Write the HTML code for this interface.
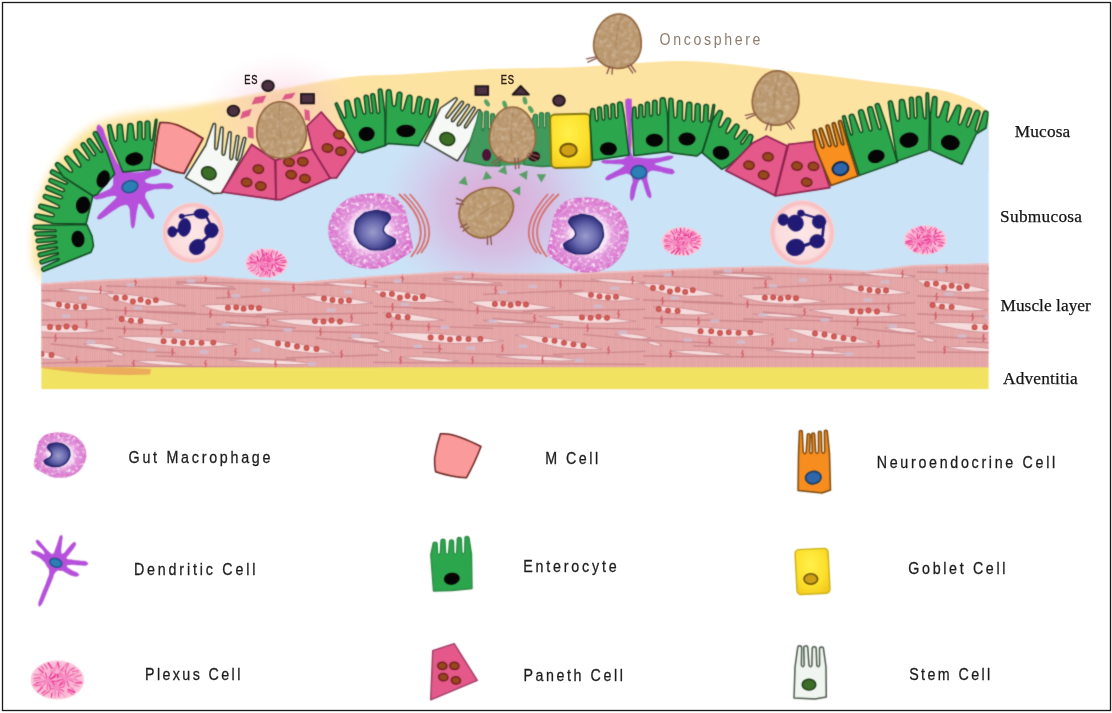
<!DOCTYPE html>
<html lang="en"><head><meta charset="utf-8"><title>Intestinal wall and oncosphere</title>
<style>
html,body{margin:0;padding:0;background:#fff;}
body{width:1112px;height:713px;overflow:hidden;}
svg{display:block;}
text{font-family:"Liberation Sans",sans-serif;}
.serif{font-family:"Liberation Serif",serif;}
</style></head><body>
<svg width="1112" height="713" viewBox="0 0 1112 713">
<defs>
<filter id="blur6" x="-20%" y="-20%" width="140%" height="140%"><feGaussianBlur stdDeviation="6"/></filter>
<filter id="blur3" x="-20%" y="-20%" width="140%" height="140%"><feGaussianBlur stdDeviation="3"/></filter>
<filter id="blur1" x="-20%" y="-20%" width="140%" height="140%"><feGaussianBlur stdDeviation="0.6"/></filter>
<filter id="soften" filterUnits="userSpaceOnUse" x="0" y="0" width="1112" height="713" color-interpolation-filters="sRGB"><feConvolveMatrix order="3" kernelMatrix="1 4 1 4 16 4 1 4 1" divisor="36" edgeMode="duplicate"/></filter>
<clipPath id="cl_ill"><rect x="0" y="0" width="988.6" height="400"/></clipPath>
<radialGradient id="gPink" cx="0.5" cy="0.5" r="0.5">
 <stop offset="0" stop-color="#f4a8c8" stop-opacity="0.42"/>
 <stop offset="0.45" stop-color="#f6b6d0" stop-opacity="0.26"/>
 <stop offset="1" stop-color="#fbd0e0" stop-opacity="0"/>
</radialGradient>
<radialGradient id="gPurp" cx="0.5" cy="0.5" r="0.5">
 <stop offset="0" stop-color="#e29ccf" stop-opacity="0.9"/>
 <stop offset="0.5" stop-color="#dca8d8" stop-opacity="0.58"/>
 <stop offset="1" stop-color="#d8b8e8" stop-opacity="0"/>
</radialGradient>
<radialGradient id="gGob" cx="0.45" cy="0.35" r="0.75">
 <stop offset="0" stop-color="#fff04a"/>
 <stop offset="0.6" stop-color="#fde02c"/>
 <stop offset="1" stop-color="#f3c81e"/>
</radialGradient>
<radialGradient id="gDot" cx="0.5" cy="0.5" r="0.5">
 <stop offset="0" stop-color="#d87468"/>
 <stop offset="0.45" stop-color="#cf5a55"/>
 <stop offset="1" stop-color="#c44848"/>
</radialGradient>

<filter id="yb0" x="-10%" y="-20%" width="120%" height="140%"><feGaussianBlur stdDeviation="4"/></filter>
<clipPath id="yc0"><rect x="0" y="0" width="110" height="400"/></clipPath>
<filter id="yb1" x="-10%" y="-20%" width="120%" height="140%"><feGaussianBlur stdDeviation="4"/></filter>
<clipPath id="yc1"><rect x="110" y="0" width="40" height="400"/></clipPath>
<filter id="yb2" x="-10%" y="-20%" width="120%" height="140%"><feGaussianBlur stdDeviation="3.2"/></filter>
<clipPath id="yc2"><rect x="150" y="0" width="40" height="400"/></clipPath>
<filter id="yb3" x="-10%" y="-20%" width="120%" height="140%"><feGaussianBlur stdDeviation="2.5"/></filter>
<clipPath id="yc3"><rect x="190" y="0" width="40" height="400"/></clipPath>
<filter id="yb4" x="-10%" y="-20%" width="120%" height="140%"><feGaussianBlur stdDeviation="1.8"/></filter>
<clipPath id="yc4"><rect x="230" y="0" width="50" height="400"/></clipPath>
<filter id="yb5" x="-10%" y="-20%" width="120%" height="140%"><feGaussianBlur stdDeviation="1.2"/></filter>
<clipPath id="yc5"><rect x="280" y="0" width="60" height="400"/></clipPath>
<filter id="yb6" x="-10%" y="-20%" width="120%" height="140%"><feGaussianBlur stdDeviation="0.7"/></filter>
<clipPath id="yc6"><rect x="340" y="0" width="649" height="400"/></clipPath>

<pattern id="stria" width="2.3" height="8" patternUnits="userSpaceOnUse">
 <rect x="0" y="0" width="1" height="8" fill="#cc7c82" opacity="0.3"/>
</pattern>

<clipPath id="cl_mus"><polygon points="41.4,283.5 96,280 159,277.2 202,275.5 250,279 298,282.3 376,276 457,271 500,273.5 560,273.5 656,269.8 700,268 780,266 866,271 914,265 988.6,263.5 988.6,368 41.4,368"/></clipPath>
<g id="mtile"><g stroke="#c98288" stroke-width="1.3" fill="none" opacity="0.85"><path d="M-10 -12 L120 -9"/><path d="M60 -16 L262 -12"/><path d="M-10 12 L80 15"/><path d="M30 14 L150 19"/><path d="M140 17 L262 15"/><path d="M-10 30 L110 34"/><path d="M90 31 L262 35"/><path d="M-10 52 L60 55"/><path d="M40 58 L180 62"/><path d="M170 60 L262 57"/><path d="M-10 68 L262 70"/><path d="M0 -3 L70 8"/><path d="M100 0 L200 -4"/><path d="M110 24 L180 30"/><path d="M200 40 L262 46"/></g><g fill="#f6dcdc" stroke="#cc8a90" stroke-width="0.8"><path d="M-11 -4 Q15.2 -6.1 64 6.5 Q15.2 13.1 -11 -4Z"/><path d="M0 18.5 Q18.3 16.8 61 26 Q18.3 30 0 18.5Z"/><path d="M2 38.5 Q55.6 36.7 121 46.5 Q55.6 54.7 2 38.5Z"/><path d="M86 7.5 Q116.1 3.6 172 13.5 Q116.1 20.8 86 7.5Z"/><path d="M132 40.5 Q175.5 40.7 219 55 Q175.5 58.3 132 40.5Z"/><path d="M156 22 Q199.7 18.3 253 27 Q199.7 33.1 156 22Z"/><path d="M186 -1.5 Q214.4 -5.3 257 5 Q214.4 10.7 186 -1.5Z"/><path d="M-6 54 Q1.5 52.1 9 57.5 Q1.5 59.4 -6 54Z"/><path d="M113 62 Q156.5 59.4 200 66 Q156.5 68.6 113 62Z"/><path d="M18 63 Q47 60.6 76 67 Q47 69.4 18 63Z"/><path d="M208 -15 Q235 -17 262 -11 Q235 -9 208 -15Z"/><path d="M60 -14 Q89 -15.9 118 -11 Q89 -9.1 60 -14Z"/><path d="M232 40 Q250 37.4 268 44 Q250 46.6 232 40Z"/><path d="M100 26 Q125 24.1 150 29 Q125 30.9 100 26Z"/></g><g fill="#cfc0d4" opacity="0.8"><rect x="10.5" y="-14.8" width="9" height="3.6" rx="1.6"/><rect x="70.5" y="-18.8" width="9" height="3.6" rx="1.6"/><rect x="17.5" y="8.2" width="9" height="3.6" rx="1.6"/><rect x="57.5" y="31.2" width="9" height="3.6" rx="1.6"/><rect x="105.5" y="25.2" width="9" height="3.6" rx="1.6"/><rect x="30.5" y="50.2" width="9" height="3.6" rx="1.6"/><rect x="83.5" y="52.2" width="9" height="3.6" rx="1.6"/><rect x="145.5" y="-9.8" width="9" height="3.6" rx="1.6"/><rect x="167.5" y="30.2" width="9" height="3.6" rx="1.6"/><rect x="210.5" y="10.2" width="9" height="3.6" rx="1.6"/><rect x="235.5" y="36.2" width="9" height="3.6" rx="1.6"/><rect x="135.5" y="50.2" width="9" height="3.6" rx="1.6"/><rect x="191.5" y="64.2" width="9" height="3.6" rx="1.6"/><rect x="227.5" y="-7.8" width="9" height="3.6" rx="1.6"/><rect x="115.5" y="-3.8" width="9" height="3.6" rx="1.6"/></g><g stroke="#d25a64" stroke-width="1.25" fill="none" stroke-linejoin="round"><path d="M20 -20 l-1.2 3.6 l1.6 0.2 l-1.4 4" /><path d="M90 -24 l-1.2 3.6 l1.6 0.2 l-1.4 4" /><path d="M10 9 l-1.2 3.6 l1.6 0.2 l-1.4 4" /><path d="M9 28 l-1.2 3.6 l1.6 0.2 l-1.4 4" /><path d="M46 29 l-1.2 3.6 l1.6 0.2 l-1.4 4" /><path d="M95 12 l-1.2 3.6 l1.6 0.2 l-1.4 4" /><path d="M113 -8 l-1.2 3.6 l1.6 0.2 l-1.4 4" /><path d="M57 50 l-1.2 3.6 l1.6 0.2 l-1.4 4" /><path d="M90 62 l-1.2 3.6 l1.6 0.2 l-1.4 4" /><path d="M120 50 l-1.2 3.6 l1.6 0.2 l-1.4 4" /><path d="M152 20 l-1.2 3.6 l1.6 0.2 l-1.4 4" /><path d="M178 -14 l-1.2 3.6 l1.6 0.2 l-1.4 4" /><path d="M205 30 l-1.2 3.6 l1.6 0.2 l-1.4 4" /><path d="M236 16 l-1.2 3.6 l1.6 0.2 l-1.4 4" /><path d="M226 52 l-1.2 3.6 l1.6 0.2 l-1.4 4" /><path d="M18 62 l-1.2 3.6 l1.6 0.2 l-1.4 4" /><path d="M160 62 l-1.2 3.6 l1.6 0.2 l-1.4 4" /><path d="M250 -18 l-1.2 3.6 l1.6 0.2 l-1.4 4" /></g><circle cx="0" cy="0" r="2.9" fill="url(#gDot)"/><circle cx="8.9" cy="-0.4" r="2.9" fill="url(#gDot)"/><circle cx="16.9" cy="3.3" r="2.9" fill="url(#gDot)"/><circle cx="24.6" cy="1.7" r="2.9" fill="url(#gDot)"/><circle cx="32.2" cy="3.9" r="2.9" fill="url(#gDot)"/><circle cx="39.8" cy="2.1" r="2.9" fill="url(#gDot)"/><circle cx="5.7" cy="21" r="2.9" fill="url(#gDot)"/><circle cx="15" cy="22.6" r="2.9" fill="url(#gDot)"/><circle cx="24.6" cy="22.9" r="2.9" fill="url(#gDot)"/><circle cx="47.6" cy="43.2" r="2.9" fill="url(#gDot)"/><circle cx="58.2" cy="43.2" r="2.9" fill="url(#gDot)"/><circle cx="67" cy="45" r="2.9" fill="url(#gDot)"/><circle cx="75.8" cy="44.3" r="2.9" fill="url(#gDot)"/><circle cx="85.5" cy="44.8" r="2.9" fill="url(#gDot)"/><circle cx="97.3" cy="44.6" r="2.9" fill="url(#gDot)"/><circle cx="111.9" cy="9.7" r="2.9" fill="url(#gDot)"/><circle cx="120.2" cy="9.3" r="2.9" fill="url(#gDot)"/><circle cx="127.6" cy="10.7" r="2.9" fill="url(#gDot)"/><circle cx="135.2" cy="9.3" r="2.9" fill="url(#gDot)"/><circle cx="143" cy="10.2" r="2.9" fill="url(#gDot)"/><circle cx="162" cy="45.5" r="2.9" fill="url(#gDot)"/><circle cx="171.5" cy="46.5" r="2.9" fill="url(#gDot)"/><circle cx="181" cy="48.5" r="2.9" fill="url(#gDot)"/><circle cx="190.5" cy="50" r="2.9" fill="url(#gDot)"/><circle cx="200.5" cy="51" r="2.9" fill="url(#gDot)"/><circle cx="199" cy="23" r="2.9" fill="url(#gDot)"/><circle cx="207.5" cy="23.5" r="2.9" fill="url(#gDot)"/><circle cx="215.5" cy="22.5" r="2.9" fill="url(#gDot)"/><circle cx="224" cy="23.5" r="2.9" fill="url(#gDot)"/><circle cx="208" cy="0.5" r="2.9" fill="url(#gDot)"/><circle cx="216.5" cy="2" r="2.9" fill="url(#gDot)"/><circle cx="225" cy="3" r="2.9" fill="url(#gDot)"/><circle cx="233" cy="2.5" r="2.9" fill="url(#gDot)"/></g>

<filter id="texOnc" x="-5%" y="-5%" width="110%" height="110%">
 <feTurbulence type="fractalNoise" baseFrequency="0.22" numOctaves="3" seed="4" result="n"/>
 <feColorMatrix in="n" type="matrix" values="0 0 0 0 0.55  0 0 0 0 0.38  0 0 0 0 0.22  1.3 0 0 0 -0.5" result="n2"/>
 <feComposite in="n2" in2="SourceGraphic" operator="in" result="n3"/>
 <feColorMatrix in="n" type="matrix" values="0 0 0 0 0.80  0 0 0 0 0.68  0 0 0 0 0.52  0 1.1 0 0 -0.5" result="m2"/>
 <feComposite in="m2" in2="SourceGraphic" operator="in" result="m3"/>
 <feMerge><feMergeNode in="SourceGraphic"/><feMergeNode in="m3"/><feMergeNode in="n3"/></feMerge>
</filter>
<filter id="texMac" x="-5%" y="-5%" width="110%" height="110%">
 <feTurbulence type="fractalNoise" baseFrequency="0.28" numOctaves="2" seed="7" result="n"/>
 <feColorMatrix in="n" type="matrix" values="0 0 0 0 0.98  0 0 0 0 0.82  0 0 0 0 0.97  3.5 0 0 0 -1.7" result="n2"/>
 <feComposite in="n2" in2="SourceGraphic" operator="in" result="n3"/>
 <feTurbulence type="fractalNoise" baseFrequency="0.33" numOctaves="2" seed="21" result="m"/>
 <feColorMatrix in="m" type="matrix" values="0 0 0 0 0.70  0 0 0 0 0.28  0 0 0 0 0.68  0 4 0 0 -1.8" result="m2"/>
 <feComposite in="m2" in2="SourceGraphic" operator="in" result="m3"/>
 <feMerge><feMergeNode in="SourceGraphic"/><feMergeNode in="n3"/><feMergeNode in="m3"/></feMerge>
</filter>
<radialGradient id="gMac" cx="0.5" cy="0.5" r="0.5">
 <stop offset="0" stop-color="#f3d2f0"/>
 <stop offset="0.5" stop-color="#ecb4e6"/>
 <stop offset="0.72" stop-color="#e28cd8"/>
 <stop offset="0.93" stop-color="#dc74ce"/>
 <stop offset="1" stop-color="#d868c6"/>
</radialGradient>
<radialGradient id="gMacHalo" cx="0.5" cy="0.5" r="0.5">
 <stop offset="0" stop-color="#fff" stop-opacity="1"/>
 <stop offset="0.72" stop-color="#fdf0fc" stop-opacity="0.85"/>
 <stop offset="1" stop-color="#f6d6f4" stop-opacity="0"/>
</radialGradient>
<radialGradient id="gNuc" cx="0.45" cy="0.55" r="0.6">
 <stop offset="0" stop-color="#9a9bcb"/>
 <stop offset="0.45" stop-color="#6b6cb0"/>
 <stop offset="0.8" stop-color="#3a3b86"/>
 <stop offset="1" stop-color="#25256a"/>
</radialGradient>
<radialGradient id="gNeu" cx="0.5" cy="0.5" r="0.5">
 <stop offset="0" stop-color="#fce6e6"/>
 <stop offset="0.8" stop-color="#fbdcdd"/>
 <stop offset="0.88" stop-color="#f9c4c6"/>
 <stop offset="0.95" stop-color="#f8c0c2"/>
 <stop offset="1" stop-color="#fad7d8"/>
</radialGradient>
<radialGradient id="gPlex" cx="0.5" cy="0.5" r="0.5">
 <stop offset="0" stop-color="#f8a8cf"/>
 <stop offset="0.8" stop-color="#fab9d6"/>
 <stop offset="1" stop-color="#fbcbdc"/>
</radialGradient>
</defs>
<rect width="1112" height="713" fill="#fff"/>
<g filter="url(#soften)">
<g clip-path="url(#yc0)"><path d="M34 266C33.8 261.3 32.7 247 33 238C33.3 229 34.3 220.5 36 212C37.7 203.5 39.5 195.5 43 187C46.5 178.5 51.5 169 57 161C62.5 153 69.5 145.1 76 139C82.5 132.9 88.7 128.2 96 124.5C103.3 120.8 111.7 118.6 120 116.5C128.3 114.4 132.7 114 146 112C159.3 110 178.3 108.2 200 104.5C221.7 100.8 251 94.6 276 90C301 85.4 329.3 79.6 350 77C370.7 74.4 379 75.8 400 74.5C421 73.2 452.7 70.6 476 69.5C499.3 68.4 522.7 68.4 540 68C557.3 67.6 565 67.8 580 67C595 66.2 613.2 64.5 630 63.5C646.8 62.5 664.3 60.9 681 61C697.7 61.1 713.2 62.4 730 64C746.8 65.6 765.3 68.5 782 70.5C798.7 72.5 813.5 74 830 76C846.5 78 864.2 80.4 881 82.5C897.8 84.6 918.7 86.6 931 88.5C943.3 90.4 947.7 91.8 955 94C962.3 96.2 969.4 99.1 975 102C980.6 104.9 986.3 109.9 988.6 111.5 L988.6 170 L700 200 L400 200 L150 210 L100 280 L41 280 L38 272Z" fill="#fde3a2" filter="url(#yb0)"/></g>
<g clip-path="url(#yc1)"><path d="M34 266C33.8 261.3 32.7 247 33 238C33.3 229 34.3 220.5 36 212C37.7 203.5 39.5 195.5 43 187C46.5 178.5 51.5 169 57 161C62.5 153 69.5 145.1 76 139C82.5 132.9 88.7 128.2 96 124.5C103.3 120.8 111.7 118.6 120 116.5C128.3 114.4 132.7 114 146 112C159.3 110 178.3 108.2 200 104.5C221.7 100.8 251 94.6 276 90C301 85.4 329.3 79.6 350 77C370.7 74.4 379 75.8 400 74.5C421 73.2 452.7 70.6 476 69.5C499.3 68.4 522.7 68.4 540 68C557.3 67.6 565 67.8 580 67C595 66.2 613.2 64.5 630 63.5C646.8 62.5 664.3 60.9 681 61C697.7 61.1 713.2 62.4 730 64C746.8 65.6 765.3 68.5 782 70.5C798.7 72.5 813.5 74 830 76C846.5 78 864.2 80.4 881 82.5C897.8 84.6 918.7 86.6 931 88.5C943.3 90.4 947.7 91.8 955 94C962.3 96.2 969.4 99.1 975 102C980.6 104.9 986.3 109.9 988.6 111.5 L988.6 170 L700 200 L400 200 L150 210 L100 280 L41 280 L38 272Z" fill="#fde3a2" filter="url(#yb1)"/></g>
<g clip-path="url(#yc2)"><path d="M34 266C33.8 261.3 32.7 247 33 238C33.3 229 34.3 220.5 36 212C37.7 203.5 39.5 195.5 43 187C46.5 178.5 51.5 169 57 161C62.5 153 69.5 145.1 76 139C82.5 132.9 88.7 128.2 96 124.5C103.3 120.8 111.7 118.6 120 116.5C128.3 114.4 132.7 114 146 112C159.3 110 178.3 108.2 200 104.5C221.7 100.8 251 94.6 276 90C301 85.4 329.3 79.6 350 77C370.7 74.4 379 75.8 400 74.5C421 73.2 452.7 70.6 476 69.5C499.3 68.4 522.7 68.4 540 68C557.3 67.6 565 67.8 580 67C595 66.2 613.2 64.5 630 63.5C646.8 62.5 664.3 60.9 681 61C697.7 61.1 713.2 62.4 730 64C746.8 65.6 765.3 68.5 782 70.5C798.7 72.5 813.5 74 830 76C846.5 78 864.2 80.4 881 82.5C897.8 84.6 918.7 86.6 931 88.5C943.3 90.4 947.7 91.8 955 94C962.3 96.2 969.4 99.1 975 102C980.6 104.9 986.3 109.9 988.6 111.5 L988.6 170 L700 200 L400 200 L150 210 L100 280 L41 280 L38 272Z" fill="#fde3a2" filter="url(#yb2)"/></g>
<g clip-path="url(#yc3)"><path d="M34 266C33.8 261.3 32.7 247 33 238C33.3 229 34.3 220.5 36 212C37.7 203.5 39.5 195.5 43 187C46.5 178.5 51.5 169 57 161C62.5 153 69.5 145.1 76 139C82.5 132.9 88.7 128.2 96 124.5C103.3 120.8 111.7 118.6 120 116.5C128.3 114.4 132.7 114 146 112C159.3 110 178.3 108.2 200 104.5C221.7 100.8 251 94.6 276 90C301 85.4 329.3 79.6 350 77C370.7 74.4 379 75.8 400 74.5C421 73.2 452.7 70.6 476 69.5C499.3 68.4 522.7 68.4 540 68C557.3 67.6 565 67.8 580 67C595 66.2 613.2 64.5 630 63.5C646.8 62.5 664.3 60.9 681 61C697.7 61.1 713.2 62.4 730 64C746.8 65.6 765.3 68.5 782 70.5C798.7 72.5 813.5 74 830 76C846.5 78 864.2 80.4 881 82.5C897.8 84.6 918.7 86.6 931 88.5C943.3 90.4 947.7 91.8 955 94C962.3 96.2 969.4 99.1 975 102C980.6 104.9 986.3 109.9 988.6 111.5 L988.6 170 L700 200 L400 200 L150 210 L100 280 L41 280 L38 272Z" fill="#fde3a2" filter="url(#yb3)"/></g>
<g clip-path="url(#yc4)"><path d="M34 266C33.8 261.3 32.7 247 33 238C33.3 229 34.3 220.5 36 212C37.7 203.5 39.5 195.5 43 187C46.5 178.5 51.5 169 57 161C62.5 153 69.5 145.1 76 139C82.5 132.9 88.7 128.2 96 124.5C103.3 120.8 111.7 118.6 120 116.5C128.3 114.4 132.7 114 146 112C159.3 110 178.3 108.2 200 104.5C221.7 100.8 251 94.6 276 90C301 85.4 329.3 79.6 350 77C370.7 74.4 379 75.8 400 74.5C421 73.2 452.7 70.6 476 69.5C499.3 68.4 522.7 68.4 540 68C557.3 67.6 565 67.8 580 67C595 66.2 613.2 64.5 630 63.5C646.8 62.5 664.3 60.9 681 61C697.7 61.1 713.2 62.4 730 64C746.8 65.6 765.3 68.5 782 70.5C798.7 72.5 813.5 74 830 76C846.5 78 864.2 80.4 881 82.5C897.8 84.6 918.7 86.6 931 88.5C943.3 90.4 947.7 91.8 955 94C962.3 96.2 969.4 99.1 975 102C980.6 104.9 986.3 109.9 988.6 111.5 L988.6 170 L700 200 L400 200 L150 210 L100 280 L41 280 L38 272Z" fill="#fde3a2" filter="url(#yb4)"/></g>
<g clip-path="url(#yc5)"><path d="M34 266C33.8 261.3 32.7 247 33 238C33.3 229 34.3 220.5 36 212C37.7 203.5 39.5 195.5 43 187C46.5 178.5 51.5 169 57 161C62.5 153 69.5 145.1 76 139C82.5 132.9 88.7 128.2 96 124.5C103.3 120.8 111.7 118.6 120 116.5C128.3 114.4 132.7 114 146 112C159.3 110 178.3 108.2 200 104.5C221.7 100.8 251 94.6 276 90C301 85.4 329.3 79.6 350 77C370.7 74.4 379 75.8 400 74.5C421 73.2 452.7 70.6 476 69.5C499.3 68.4 522.7 68.4 540 68C557.3 67.6 565 67.8 580 67C595 66.2 613.2 64.5 630 63.5C646.8 62.5 664.3 60.9 681 61C697.7 61.1 713.2 62.4 730 64C746.8 65.6 765.3 68.5 782 70.5C798.7 72.5 813.5 74 830 76C846.5 78 864.2 80.4 881 82.5C897.8 84.6 918.7 86.6 931 88.5C943.3 90.4 947.7 91.8 955 94C962.3 96.2 969.4 99.1 975 102C980.6 104.9 986.3 109.9 988.6 111.5 L988.6 170 L700 200 L400 200 L150 210 L100 280 L41 280 L38 272Z" fill="#fde3a2" filter="url(#yb5)"/></g>
<g clip-path="url(#yc6)"><path d="M34 266C33.8 261.3 32.7 247 33 238C33.3 229 34.3 220.5 36 212C37.7 203.5 39.5 195.5 43 187C46.5 178.5 51.5 169 57 161C62.5 153 69.5 145.1 76 139C82.5 132.9 88.7 128.2 96 124.5C103.3 120.8 111.7 118.6 120 116.5C128.3 114.4 132.7 114 146 112C159.3 110 178.3 108.2 200 104.5C221.7 100.8 251 94.6 276 90C301 85.4 329.3 79.6 350 77C370.7 74.4 379 75.8 400 74.5C421 73.2 452.7 70.6 476 69.5C499.3 68.4 522.7 68.4 540 68C557.3 67.6 565 67.8 580 67C595 66.2 613.2 64.5 630 63.5C646.8 62.5 664.3 60.9 681 61C697.7 61.1 713.2 62.4 730 64C746.8 65.6 765.3 68.5 782 70.5C798.7 72.5 813.5 74 830 76C846.5 78 864.2 80.4 881 82.5C897.8 84.6 918.7 86.6 931 88.5C943.3 90.4 947.7 91.8 955 94C962.3 96.2 969.4 99.1 975 102C980.6 104.9 986.3 109.9 988.6 111.5 L988.6 170 L700 200 L400 200 L150 210 L100 280 L41 280 L38 272Z" fill="#fde3a2" filter="url(#yb6)"/></g>
<path d="M37 262 C33 215 50 165 100 128" fill="none" stroke="#fde68a" stroke-width="7" opacity="0.4" filter="url(#blur3)"/>
<ellipse cx="283" cy="108" rx="80" ry="56" fill="url(#gPink)"/>
<polygon points="41.4,292 41.4,262 60,255 80,246 80,224 84,195 108,172 150,162 184,165 214,185 276,190 325,172 358,146 387,138 420,138 458,150 483,150 541,150 592,152 629,148 668,145 701,149 724,161 777,184 830,179 859,168 896,155 929,144 961,156 975,134 988.6,122 988.6,292" fill="#cbe3f6" />
<clipPath id="cl_sub"><rect x="41.4" y="60" width="947.2" height="232"/></clipPath>
<g clip-path="url(#cl_sub)"><ellipse cx="494" cy="205" rx="112" ry="98" fill="url(#gPurp)"/></g>
<polygon points="41.4,283.5 96,280 159,277.2 202,275.5 250,279 298,282.3 376,276 457,271 500,273.5 560,273.5 656,269.8 700,268 780,266 866,271 914,265 988.6,263.5 988.6,368 41.4,368" fill="#e9acac" />
<g clip-path="url(#cl_mus)"><rect x="41" y="255" width="948" height="115" fill="url(#stria)"/><use href="#mtile" x="-149" y="304"/><use href="#mtile" x="116" y="298"/><use href="#mtile" x="383" y="294.3"/><use href="#mtile" x="653" y="288"/><use href="#mtile" x="927" y="284"/></g>
<path d="M41.4 284.3 L96 280.8 L159 278 L202 276.3 L250 279.8 L298 283.1 L376 276.8 L457 271.8 L500 274.3 L560 274.3 L656 270.6 L700 268.8 L780 266.8 L866 271.8 L914 265.8 L988.6 264.3" fill="none" stroke="#f0c4c8" stroke-width="1.6" opacity="0.8"/>
<rect x="41.4" y="367.3" width="947.2" height="21.8" fill="#f1e262"/>
<path d="M41.4 368 C70 372 110 376.5 150 374.5 L151 369 L120 367.3 L41.4 367.3Z" fill="#e89a5a" opacity="0.75"/>
<g clip-path="url(#cl_ill)">
<path d="M97 127.5C97.4 124 99.1 124.2 101.5 127C103.9 129.8 103.3 131.3 106 138C108.7 144.7 107.9 144.5 111.5 152C115.1 159.5 115.1 160.8 119.5 166C123.9 171.2 122.5 169.8 128 171.5C133.5 173.2 133.6 173 140 172.5C146.4 172 146.5 170 152 169.5C157.5 169 158.8 169.2 160.5 170.5C162.2 171.8 161.6 172.6 158.5 174.5C155.4 176.4 152.6 175.6 149 177.5C145.4 179.4 144.2 179.7 145 181.5C145.8 183.3 147.2 183.7 152 184.3C156.8 184.9 157.8 183.5 163 183.6C168.2 183.7 169.4 183.3 171.5 184.6C173.6 185.9 173.8 187.3 171 188.4C168.2 189.5 166.3 188.2 161 188.6C155.7 189 155.3 188.4 151 190C146.7 191.6 145.8 191 145 194.5C144.2 198 146.1 198.6 148 203C149.9 207.4 150.4 207.2 152 211C153.6 214.8 154.4 215.4 154 217.2C153.6 219 152.9 219.5 150.5 217.6C148.1 215.7 147.9 213.8 145 210C142.1 206.2 141.6 203.8 139.5 203.5C137.4 203.2 138.1 205.1 137 209C135.9 212.9 136.3 213.3 135.5 218C134.7 222.7 135 224.3 134 226.5C133 228.7 132.5 229 131.6 226.2C130.7 223.4 131.2 221.1 130.5 216C129.8 210.9 130.9 209.9 129 207C127.1 204.1 127.5 204.2 123.5 205C119.5 205.8 119.1 206.9 114 210C108.9 213.1 108.4 214.1 104.5 216.5C100.6 218.9 100.9 219.1 99.2 219C97.5 218.9 96.7 218.9 98.2 216.2C99.7 213.5 101.1 212.9 105 209C108.9 205.1 109.9 204.8 113 201.5C116.1 198.2 117.3 198 116.5 196.5C115.7 195 114.3 195.4 110 196C105.7 196.6 104.6 197.9 100.5 198.6C96.4 199.3 96.1 199.4 94.6 198.6C93.1 197.8 92.5 197.4 95 195.6C97.5 193.8 99.6 194.2 104 192C108.4 189.8 109 190.4 111.5 187.5C114 184.6 113.4 185.1 113.5 181C113.6 176.9 114.1 178.9 112 172C109.9 165.1 108.7 163.5 105.5 155C102.3 146.5 102.3 147.3 100 140C97.7 132.7 96.6 131 97 127.5Z" fill="#b650dc" stroke="#a845cf" stroke-width="0.6"/><ellipse cx="130" cy="186.6" rx="8" ry="5.8" fill="#2a7fb4" stroke="#27538f" stroke-width="1.6" transform="rotate(-15 130 186.6)" />
<path d="M625.6 101.5C625.6 97.4 625.8 100.3 626.6 99.6C627.4 98.9 627.5 98.8 628.5 98.8C629.5 98.8 629.6 98.9 630.4 99.6C631.2 100.3 631.2 96.1 631.4 101.5C631.6 106.9 631.4 109.7 631.3 120C631.2 130.3 631.1 130.7 631.2 140C631.3 149.3 629.5 150.2 631.8 155C634.1 159.8 633.8 157.1 640 158C646.2 158.9 646.9 159 655 158.5C663.1 158 666.2 155.9 670.5 156C674.8 156.1 673.5 157.3 671 158.8C668.5 160.3 665.4 160.1 661 161.5C656.6 162.9 654.8 162.7 654.5 164C654.2 165.3 656.4 165.3 660 166.5C663.6 167.7 664.5 167.7 668 168.6C671.5 169.5 671.6 168.7 673 170C674.4 171.3 674.8 172.5 673.2 173.4C671.6 174.3 671.1 173.8 667 173.2C662.9 172.6 662.5 171.6 658 171C653.5 170.4 652.9 169.4 650 171C647.1 172.6 647.4 173 647 177C646.6 181 647.4 181.1 648.5 186C649.6 190.9 651 192.6 651 195.5C651 198.4 650.1 198.5 648.6 197C647.1 195.5 647.1 194.3 645.5 190C643.9 185.7 644.2 183.5 642.5 181C640.8 178.5 640.7 178.6 639 180.5C637.3 182.4 637.5 183.2 636 188C634.5 192.8 634.8 195.7 633.4 198.5C632 201.3 631.2 201.1 630.6 198.6C630 196.1 630.4 194 631 189C631.6 184 633.5 184 633 180C632.5 176 631.9 175.5 629 174C626.1 172.5 626 173.6 622 174.5C618 175.4 617.9 176 614 177.5C610.1 179 609.5 180.1 607.5 180C605.5 179.9 605 178.9 606.5 177C608 175.1 609.1 175.3 613 173C616.9 170.7 618.1 170.6 621 168.5C623.9 166.4 625.3 166.3 624 165C622.7 163.7 621.3 164.3 616 163.8C610.7 163.3 607.3 163.9 604 163C600.7 162.1 600.6 161.3 603.5 160.5C606.4 159.7 609 160.8 615 160C621 159.2 622.5 160.2 626 157.5C629.5 154.8 627.5 157.3 628 150C628.5 142.7 628.2 139.3 627.8 130C627.4 120.7 627.1 122.6 626.5 115C625.9 107.4 625.6 105.6 625.6 101.5Z" fill="#b650dc" stroke="#a845cf" stroke-width="0.6"/><ellipse cx="638.8" cy="172.2" rx="7.8" ry="6.6" fill="#2a7fb4" stroke="#27538f" stroke-width="1.6" />
<path d="M60 264.7L44.4 271C42.2 272 40.5 268.4 42.8 267.4L58.7 260Q60 258.7 58.1 258.5L42.5 263.8C40.2 264.6 38.9 260.9 41.2 260.1L57.9 254.3Q59.4 253.1 57.3 252.8L40.6 256.8C38.2 257.4 37.3 253.6 39.6 253L56.9 248.7Q58.6 247.5 56.7 247L39.2 249.8C36.8 250.2 36.2 246.4 38.6 246L56.3 242.9Q58 241.9 56 241.3L38.1 242.8C35.7 243 35.3 239.1 37.8 238.9L55.6 237.2Q57.4 236.3 55.6 235.6L37 235.9C34.6 236 34.5 232.1 36.9 232L55.4 231.5Q57.2 230.7 55.3 229.9L34.9 229.2C32.5 229.1 32.6 225.2 35 225.3L57 225L86.8 224.6L92 236L93.5 246L91 252.3Z" fill="#2ca64d" stroke="#114a22" stroke-width="1.5" stroke-linejoin="round"/><ellipse cx="78" cy="239" rx="6.5" ry="8.2" fill="#050505" transform="rotate(-5 78 239)" />
<path d="M53 223.5L36.2 218.1C33.7 217.6 34.5 213.6 37 214.1L52.4 216.7Q56 216.1 53.2 213.7L40.1 208.2C37.7 207.4 38.9 203.5 41.4 204.3L57.4 208.2Q61 207.9 58.4 205.4L44.5 198.4C42.1 197.5 43.6 193.7 45.9 194.6L60.5 198.7Q64.1 198.5 61.6 196L46.9 189.7C44.5 188.7 46.1 184.9 48.5 185.9L62.5 191.6Q66 191.6 63.5 188.9L50.1 182.4C47.7 181.4 49.4 177.6 51.7 178.6L65.6 184.1Q68.4 183.8 67.5 182.6L51.4 173.8C49.2 172.6 51.1 169 53.4 170.2L69 178L93 195.5L89.5 210L86 224Z" fill="#2ca64d" stroke="#114a22" stroke-width="1.5" stroke-linejoin="round"/><ellipse cx="83" cy="205" rx="7" ry="8.6" fill="#050505" transform="rotate(10 83 205)" />
<path d="M63.5 177L56.1 166.1C54.2 164.3 57 161.4 58.9 163.1L69.9 171.9Q73.2 173.3 72.2 169.8L65.3 159.4C63.7 157.4 66.9 154.8 68.5 156.8L78.4 166.5Q81.6 168.3 80.7 164.7L74.2 152.6C72.6 150.5 75.9 148.1 77.5 150.1L86.9 159.7Q90 161.6 89.3 158L81.4 145.8C79.9 143.7 83.3 141.4 84.7 143.5L93 155.1Q96.1 157.1 95.3 153.5L87.5 141.9C86 139.8 89.4 137.4 90.9 139.5L100.3 151.8Q102.8 153 102.8 151.6L93.5 134.6C92.3 132.3 96 130.4 97.2 132.7L107.1 152.5L114.6 174L97 194.5L93 196Z" fill="#2ca64d" stroke="#114a22" stroke-width="1.5" stroke-linejoin="round"/><ellipse cx="103.2" cy="179" rx="6.2" ry="9" fill="#050505" transform="rotate(22 103.2 179)" />
<path d="M110 141.5L107.7 126.6C107.2 124.6 110.4 123.8 110.9 125.8L114.5 139.8Q116 142.4 117.2 139L117.2 126.6C117.1 123.5 122.1 123.2 122.2 126.4L123.8 140.5Q125.3 143.7 126.7 140.4L127.9 125.9C127.9 122.8 132.9 122.7 132.9 125.9L134.5 138.5Q136 141.8 137.4 138.5L137.6 123.7C137.6 120.9 142 120.9 142 123.7L142.2 137.9Q143.6 141.2 145 137.9L145.1 123.2C145 120.2 149.8 120.2 149.8 123.1L150.3 139.1Q151.7 141.5 152.4 140.4L155.4 119.9C155.5 118.9 157.1 119.1 157 120.1L154.6 141L150 169.5L123 172Z" fill="#2ca64d" stroke="#114a22" stroke-width="1.5" stroke-linejoin="round"/><ellipse cx="134.2" cy="159" rx="9" ry="6.5" fill="#050505" transform="rotate(-12 134.2 159)" />
<path d="M160 122.6 C168 122 176 124 182 127 C190 130.5 197 134.5 203 138.5 C196 151 190 162 184 173.5 C174 172 163 168 154 163 C154.5 155 155.5 148 156.5 141.5 C157.5 134 158.5 128 160 122.6Z" fill="#fb9a9a" stroke="#6a2320" stroke-width="1.7" stroke-linejoin="round"/>
<path d="M205.6 145.5L213 124.5C213.2 122.9 215.9 123.3 215.6 124.9L214.7 147.9Q215.7 151.4 217.4 148.2L220.5 128.2C220.7 126.5 223.4 126.8 223.2 128.5L222 153.6Q223.1 157 224.9 153.8L228.5 132.8C228.7 131.1 231.4 131.4 231.2 133.1L229.8 157.9Q230.8 161.4 232.7 158.3L236.3 136.5C236.5 134.9 239.2 135.3 238.9 136.9L235.9 158.4Q236.9 161 237.7 159.9L243.2 138.4C243.6 136.7 246.2 137.4 245.8 139L241.5 157L222 193L213.5 193.5L185.5 177.6Z" fill="#f6f8f6" stroke="#333c2e" stroke-width="1.5" stroke-linejoin="round"/><ellipse cx="208.8" cy="173.2" rx="7.6" ry="6.2" fill="#3c6e28" stroke="#1f3a16" stroke-width="1.5" transform="rotate(25 208.8 173.2)" />
<polygon points="251.7,144.5 275,160.3 276,199.6 222,192" fill="#e4598a" stroke="#8e2350" stroke-width="1.7" stroke-linejoin="round" /><ellipse cx="258.4" cy="169.1" rx="5.2" ry="4.1" fill="#97481c" stroke="#742020" stroke-width="1.5" transform="rotate(8 258.4 169.1)" /><ellipse cx="246.6" cy="182.4" rx="5.2" ry="4.1" fill="#97481c" stroke="#742020" stroke-width="1.5" transform="rotate(8 246.6 182.4)" /><ellipse cx="260.8" cy="186" rx="5.2" ry="4.1" fill="#97481c" stroke="#742020" stroke-width="1.5" transform="rotate(8 260.8 186)" />
<polygon points="275.7,160.3 312.3,149 331,178 281,199.6 276,199.6" fill="#e4598a" stroke="#8e2350" stroke-width="1.7" stroke-linejoin="round" /><ellipse cx="289" cy="162.2" rx="5.2" ry="4.1" fill="#97481c" stroke="#742020" stroke-width="1.5" transform="rotate(8 289 162.2)" /><ellipse cx="302.8" cy="161.6" rx="5.2" ry="4.1" fill="#97481c" stroke="#742020" stroke-width="1.5" transform="rotate(8 302.8 161.6)" /><ellipse cx="291.2" cy="174.6" rx="5.2" ry="4.1" fill="#97481c" stroke="#742020" stroke-width="1.5" transform="rotate(8 291.2 174.6)" /><ellipse cx="305" cy="178.6" rx="5.2" ry="4.1" fill="#97481c" stroke="#742020" stroke-width="1.5" transform="rotate(8 305 178.6)" />
<polygon points="321.2,112 355.3,151 336.4,178 330,178 312.3,149 307,126" fill="#e4598a" stroke="#8e2350" stroke-width="1.7" stroke-linejoin="round" /><ellipse cx="338.9" cy="134.7" rx="5.2" ry="4.1" fill="#97481c" stroke="#742020" stroke-width="1.5" transform="rotate(8 338.9 134.7)" /><ellipse cx="327.5" cy="148" rx="5.2" ry="4.1" fill="#97481c" stroke="#742020" stroke-width="1.5" transform="rotate(8 327.5 148)" /><ellipse cx="340.9" cy="151.3" rx="5.2" ry="4.1" fill="#97481c" stroke="#742020" stroke-width="1.5" transform="rotate(8 340.9 151.3)" />
<path d="M340.8 118L335.3 104.5C334.7 103.2 336.7 102.3 337.3 103.5L344 117.5Q345.4 119.5 346.1 115.9L344.6 103C344 100 348.9 99 349.5 102.1L353.4 116.5Q355.4 119.5 356.3 116L354.7 100.9C354.1 97.8 359.1 97 359.6 100L362.9 112.9Q364.8 115.9 365.7 112.5L364.2 97.4C363.9 94.8 368 94.3 368.3 96.9L370.2 112.1Q372 115 372.8 112L370.8 95.9C370.5 93.5 374.3 93 374.7 95.4L377 112.3Q378.6 115 379.6 112.1L378.3 90.8C378.1 88.5 381.8 88.2 382 90.5L385 114L385.4 145.5L362.4 152.7L358.1 152Z" fill="#2ca64d" stroke="#114a22" stroke-width="1.5" stroke-linejoin="round"/><ellipse cx="366.7" cy="134" rx="8" ry="7" fill="#050505" transform="rotate(-10 366.7 134)" />
<path d="M386 110L386.3 92.2C386 89.2 390.9 88.8 391.1 91.8L392.5 104.8Q393.9 108 395.7 104.8L397.1 94.3C397.5 91.3 402.3 91.9 401.9 94.9L400.8 108.9Q401.8 112.4 403.7 109.3L407.1 97.2C407.5 94.1 412.5 94.8 412 97.9L411.6 111.7Q412.5 115.2 414.6 112.2L417.3 98.3C417.9 95.5 422.4 96.4 421.8 99.2L419.6 112.4Q420.5 115.9 422.4 112.8L425 100.8C425.5 97.7 430.5 98.5 430 101.6L428.2 115.3Q429 118.4 430.6 116.4L435.3 100C435.8 98.1 438.8 98.9 438.3 100.8L434.5 118.5L418.5 145.8L388.3 143.5L385.4 145.5Z" fill="#2ca64d" stroke="#114a22" stroke-width="1.5" stroke-linejoin="round"/><ellipse cx="405.9" cy="131" rx="9.5" ry="6.2" fill="#050505" />
<path d="M440.5 108L454.8 98.1C455.9 96.8 457.9 98.7 456.8 99.9L446.1 115.7Q445 119.2 448.2 117.5L461.2 101.8C462.2 100.5 464.4 102.2 463.3 103.5L451.7 119.3Q450.7 122.9 453.9 121L467 104.8C468 103.4 470.2 105 469.2 106.4L457.4 123.6Q456.6 127.2 459.7 125.2L472.7 107.6C473.7 106.3 475.9 107.8 474.9 109.2L464.5 125.8Q464 129.5 466.7 127.1L477.9 110.4C478.6 108.8 481.1 110 480.4 111.5L476.5 131L473.2 137L457.4 160.8L424.3 141.9Z" fill="#f6f8f6" stroke="#333c2e" stroke-width="1.5" stroke-linejoin="round"/><ellipse cx="447.3" cy="139" rx="7.6" ry="6.2" fill="#3c6e28" stroke="#1f3a16" stroke-width="1.5" transform="rotate(20 447.3 139)" />
<polygon points="474,128 500,128 530,128 552,128 552,166 541.4,166.5 524,164.5 500,166 485.5,165.7 463.9,161" fill="#3f9a5c" />
<path d="M476.5 122L478.5 113.4C478.6 110.9 482.5 111.1 482.4 113.5L481.7 129.1Q483 132.2 484.2 129.5L484.5 112.9C484.6 110.5 488.5 110.5 488.4 113L488.4 128.4Q489.5 131.2 490.6 128.4L490.6 115.5C490.5 113 494.4 113 494.5 115.4L496 132L500 166L485.5 165.7L463.9 161Z" fill="#3f9a5c" stroke="#2f7a46" stroke-width="1.3" stroke-linejoin="round"/>
<path d="M530 130L533.4 115.9C533.6 113.3 537.7 113.7 537.5 116.2L537.2 126Q538.5 128.9 539.4 126.9L539.5 114.5C539.5 111.9 543.5 111.9 543.5 114.5L543.6 126.9Q544.5 129.3 545.8 126.2L545.5 114.5C545.4 112 549.5 111.8 549.6 114.4L551.5 127L552 166L541.4 166.5L524 164.5Z" fill="#3f9a5c" stroke="#2f7a46" stroke-width="1.3" stroke-linejoin="round"/>
<ellipse cx="486.6" cy="154.9" rx="4.5" ry="6" fill="#4e1238" />
<ellipse cx="534.1" cy="156.4" rx="6" ry="5" fill="#2e0c18" />
<rect x="550.6" y="114.2" width="40.4" height="53.4" rx="5" fill="url(#gGob)" stroke="#857812" stroke-width="2" transform="rotate(-1.5 571 141)"/><ellipse cx="568.5" cy="150.2" rx="8.3" ry="6.5" fill="#cf9f16" stroke="#6e5208" stroke-width="1.9" />
<path d="M590 122L590.6 110.7C590.4 108.1 594.5 107.8 594.7 110.4L595.5 119.8Q597.1 122.7 598.1 119.8L597.5 108.8C597.4 106.5 601.2 106.2 601.3 108.6L602.2 118.9Q603.6 121.7 604.7 118.8L604.2 107C604.1 104.6 607.9 104.4 608 106.8L608.7 117.9Q610 120.7 611.2 117.8L610.9 105.5C610.8 103.1 614.6 103 614.7 105.3L615.2 116.9Q616.6 119.9 617.9 116.5L617.6 104.2C617.4 101.3 622.1 101.1 622.2 104L624.5 117.5L629 155L592.6 160.5Z" fill="#2ca64d" stroke="#114a22" stroke-width="1.5" stroke-linejoin="round"/><ellipse cx="608.4" cy="148.8" rx="8.5" ry="6.5" fill="#050505" />
<path d="M632 119.5L632.7 108.5C632.6 106.5 635.8 106.3 635.9 108.3L636.4 117.2Q637.5 119.7 638.7 116.9L638.8 106.2C638.8 103.8 642.6 103.8 642.6 106.2L642.8 115.9Q644 118.8 645.3 115.7L645.4 103.8C645.4 101.3 649.4 101.3 649.4 103.8L649.7 114.7Q651 117.9 652.4 114.6L652.6 102.2C652.6 99.4 657 99.5 657 102.2L657.1 113.6Q658.5 116.9 659.9 113.5L660.2 100.2C660.1 97 665.1 96.9 665.2 100L667.5 114.5L668.4 151.5L633.8 155.7Z" fill="#2ca64d" stroke="#114a22" stroke-width="1.5" stroke-linejoin="round"/><ellipse cx="654.4" cy="140.2" rx="8.5" ry="6.5" fill="#050505" />
<path d="M668.5 118L668.9 100.2C668.8 97.7 672.8 97.5 672.9 100L674 116.5Q675.4 119.6 676.9 116.3L677.5 102.8C677.5 99.7 682.5 99.8 682.4 102.9L682.5 119.4Q683.8 122.7 685.4 119.4L686.7 104.4C686.8 101.3 691.8 101.5 691.7 104.6L691.8 120Q693.2 123.4 694.7 120.1L695.3 105.9C695.3 102.8 700.3 102.9 700.2 106L700.3 120.9Q701.6 124.2 703.2 120.9L704 106.4C704.1 103.7 708.5 103.8 708.4 106.6L708 120Q709.3 122.5 710.1 121.4L713 105.2C713.2 104.2 714.8 104.4 714.7 105.5L713 118L702.4 151.6L697 156L672.3 152.9L668.4 151.5Z" fill="#2ca64d" stroke="#114a22" stroke-width="1.5" stroke-linejoin="round"/><ellipse cx="687" cy="139" rx="8.5" ry="6.5" fill="#050505" />
<path d="M712.5 120L717.8 111.9C718.9 109 723.6 110.8 722.4 113.7L718.7 125.1Q718.7 128.7 721.6 126.4L726 119.2C727.5 116.5 731.9 118.8 730.4 121.6L726 131.2Q725.6 134.8 728.6 132.7L734.5 125.2C736.1 122.6 740.4 125.2 738.7 127.8L734.6 136.6Q733.9 140.1 737.1 138.3L743.1 131C744.9 128.6 748.7 131.5 746.9 133.8L741 142Q740.3 145.7 743.2 143.4L748.2 135.6C749.7 132.9 754.1 135.2 752.6 138L748.5 150L726.4 167L721.7 169.3L702.4 152.9Z" fill="#2ca64d" stroke="#114a22" stroke-width="1.5" stroke-linejoin="round"/><ellipse cx="721" cy="152.9" rx="8.5" ry="6.8" fill="#050505" transform="rotate(15 721 152.9)" />
<polygon points="766.5,135.9 787.3,146 774.8,195.5 725.6,170.6 752.6,142.9" fill="#e4598a" stroke="#8e2350" stroke-width="1.7" stroke-linejoin="round" /><ellipse cx="768" cy="156.8" rx="5.2" ry="4.1" fill="#97481c" stroke="#742020" stroke-width="1.5" transform="rotate(8 768 156.8)" /><ellipse cx="749" cy="165.2" rx="5.2" ry="4.1" fill="#97481c" stroke="#742020" stroke-width="1.5" transform="rotate(8 749 165.2)" /><ellipse cx="763.7" cy="175" rx="5.2" ry="4.1" fill="#97481c" stroke="#742020" stroke-width="1.5" transform="rotate(8 763.7 175)" />
<polygon points="788.5,144.4 814.8,141.3 829.8,187.6 775.2,196" fill="#e4598a" stroke="#8e2350" stroke-width="1.7" stroke-linejoin="round" /><ellipse cx="797" cy="166" rx="5.2" ry="4.1" fill="#97481c" stroke="#742020" stroke-width="1.5" transform="rotate(8 797 166)" /><ellipse cx="813.5" cy="166.3" rx="5.2" ry="4.1" fill="#97481c" stroke="#742020" stroke-width="1.5" transform="rotate(8 813.5 166.3)" /><ellipse cx="806.7" cy="182.2" rx="5.2" ry="4.1" fill="#97481c" stroke="#742020" stroke-width="1.5" transform="rotate(8 806.7 182.2)" />
<path d="M815.5 148L813 131.6C812.5 129.8 815.3 128.9 815.9 130.7L821.3 146.8Q823.7 149.6 824 145.9L819.3 130.1C818.7 128.3 821.5 127.4 822.1 129.1L828.2 145.3Q830.6 148 831 144.6L826.1 127C825.6 125.2 828.4 124.3 829 126.1L834.6 145.4Q836.8 148.1 837.3 144.5L832.3 124.7C831.8 122.8 834.6 122 835.2 123.8L841.4 143.7Q843.5 146 843.8 143.9L838.5 122.3C838.1 120.5 841 119.8 841.4 121.6L848 144L858 176L831 185.5Z" fill="#f98f1e" stroke="#6e4210" stroke-width="1.8" stroke-linejoin="round"/><ellipse cx="840.5" cy="168.6" rx="8" ry="6.5" fill="#2f66aa" stroke="#16284a" stroke-width="1.9" transform="rotate(-12 840.5 168.6)" />
<path d="M847 136L842.6 117.6C842 115.9 844.7 115.1 845.3 116.7L850.6 134.2Q852.2 136.5 852.6 132.9L849.3 117.4C848.4 114.4 853.2 113 854.1 116L859.9 131.4Q862.2 134.2 862.7 130.6L858.6 112.8C857.7 109.8 862.5 108.4 863.4 111.4L869.2 129.8Q871.5 132.7 872 129.1L867.7 109.6C866.9 106.6 871.8 105.4 872.5 108.4L878.4 128.2Q880.7 131 881.1 127.6L875.3 106.1C874.7 103.6 878.7 102.4 879.4 105L887 127L897.3 162.1L859.5 175.4Z" fill="#2ca64d" stroke="#114a22" stroke-width="1.5" stroke-linejoin="round"/><ellipse cx="876.2" cy="156.4" rx="8.5" ry="6.5" fill="#050505" transform="rotate(-15 876.2 156.4)" />
<path d="M891 122L888.4 103.2C887.8 100.7 891.8 99.9 892.3 102.3L896.3 120Q898.1 122.8 899.3 119.4L899.4 102C899.2 98.9 904.1 98.5 904.4 101.6L907.4 117.4Q909.1 120.5 910.2 117.4L909.4 99.2C909.2 96.7 913.1 96.5 913.3 98.9L914.3 116.8Q915.8 119.8 917 116.4L916.3 99.1C916.1 96 921 95.6 921.3 98.7L923.6 117.4Q925.2 120 926 118.1L926.1 93.9C926.1 92.4 928.5 92.4 928.5 93.9L929.5 119L928.9 150.1L898.7 160.6L897.3 162.1Z" fill="#2ca64d" stroke="#114a22" stroke-width="1.5" stroke-linejoin="round"/><ellipse cx="909" cy="140.1" rx="9.5" ry="7.5" fill="#050505" transform="rotate(-10 909 140.1)" />
<path d="M930.4 115L932.6 98.5C932.7 95.8 937 95.9 936.9 98.6L936.4 115.8Q937.3 119.1 939.6 116.2L944.2 103.3C945 100.3 949.9 101.5 949.1 104.6L946.4 119.9Q946.9 123.5 949.3 120.7L956 106.8C956.9 103.8 961.7 105.4 960.7 108.3L958.3 122.8Q958.6 126.4 961.1 123.8L967 109.5C968.1 106.7 972.6 108.4 971.5 111.2L966.5 125Q966.7 128.7 969.2 126L975 111.9C976 108.9 980.8 110.5 979.8 113.5L975.3 129.4Q975.6 133.1 977.9 130.3L983.5 112.8C984.4 109.8 989.1 111.2 988.3 114.2L986 128L976 134.2L962 164.3L930.4 150.1Z" fill="#2ca64d" stroke="#114a22" stroke-width="1.5" stroke-linejoin="round"/><ellipse cx="950.3" cy="142.7" rx="9.5" ry="7.5" fill="#050505" transform="rotate(10 950.3 142.7)" />
</g>
<polygon points="-3.5,-3.3 8,-3.3 3.5,3.3 -8,3.3" fill="#dd5a86" transform="translate(258.9 100) rotate(-8)"/><polygon points="-3,-2.5 7.5,-2.5 3,2.5 -7.5,2.5" fill="#dd5a86" transform="translate(288.6 96.3) rotate(-10)"/><polygon points="-2.8,-3 7.2,-3 2.8,3 -7.2,3" fill="#dd5a86" transform="translate(246 113.8) rotate(-18)"/><polygon points="-4.3,-5 1.1,-5 4.3,5 -1.1,5" fill="#dd5a86" transform="translate(307.2 115.2) rotate(14)"/><polygon points="-4.4,-5.5 1.6,-5.5 4.4,5.5 -1.6,5.5" fill="#dd5a86" transform="translate(250.7 132.5) rotate(12)"/>
<ellipse cx="233.4" cy="110.8" rx="5.9" ry="5.3" fill="#4a3040" stroke="#1c1216" stroke-width="1.7" /><ellipse cx="268" cy="85.9" rx="5.9" ry="5.3" fill="#4a3040" stroke="#1c1216" stroke-width="1.7" />
<rect x="301" y="94" width="13" height="9.4" fill="#4a3040" stroke="#1c1216" stroke-width="1.7"/>
<rect x="475.4" y="86.2" width="12.8" height="8.8" fill="#4a3040" stroke="#1c1216" stroke-width="1.7"/>
<polygon points="512.6,94.6 529,94.6 520.7,85.8" fill="#4a3040" stroke="#1c1216" stroke-width="1.7" stroke-linejoin="round" />
<ellipse cx="559" cy="100.6" rx="5.9" ry="5.3" fill="#4a3040" stroke="#1c1216" stroke-width="1.7" />
<ellipse cx="487" cy="103" rx="2.2" ry="4" fill="#58a264" transform="rotate(-35 487 103)" />
<ellipse cx="504.8" cy="104.5" rx="2.2" ry="4" fill="#58a264" transform="rotate(-20 504.8 104.5)" />
<ellipse cx="525" cy="100.6" rx="2.2" ry="4" fill="#58a264" transform="rotate(-15 525 100.6)" />
<ellipse cx="530.8" cy="109.4" rx="2.2" ry="4" fill="#58a264" transform="rotate(-30 530.8 109.4)" />
<polygon points="1.4,-5.4 4,4 -5.4,1.4" fill="#5a9f68" transform="translate(463.8 181.5)"/>
<polygon points="-1,-5.5 5.3,1.9 -4.3,3.6" fill="#5a9f68" transform="translate(487 176.4)"/>
<polygon points="1.9,-5.3 3.6,4.3 -5.5,1" fill="#5a9f68" transform="translate(503.5 170.5)"/>
<polygon points="3.2,-4.6 2.4,5.1 -5.6,-0.5" fill="#5a9f68" transform="translate(524.4 175)"/>
<polygon points="4.8,-2.8 0,5.6 -4.8,-2.8" fill="#5a9f68" transform="translate(541.4 177)"/>
<polygon points="2.8,-4.8 2.8,4.8 -5.6,0" fill="#5a9f68" transform="translate(517.4 190.8)"/>
<g transform="rotate(-6 281.2 130)"><path d="M281.2 101.7 C295.1 101.7 305.5 115.8 306 133.4 C306 148.7 295.1 158.3 281.2 158.3 C267.3 158.3 256.4 148.7 256.4 133.4 C256.9 115.8 267.3 101.7 281.2 101.7 Z" fill="#b8946a" filter="url(#texOnc)"/><path d="M282.2 103.7 Q278.2 121.5 280.2 138.5" fill="none" stroke="#a07a52" stroke-width="0.9" opacity="0.55"/><path d="M281.2 101.7 C295.1 101.7 305.5 115.8 306 133.4 C306 148.7 295.1 158.3 281.2 158.3 C267.3 158.3 256.4 148.7 256.4 133.4 C256.9 115.8 267.3 101.7 281.2 101.7 Z" fill="none" stroke="#94683f" stroke-width="1.7"/></g>
<g transform="rotate(0 512.5 134.8)"><path d="M512.5 107 C525.4 107 535.1 120.9 535.6 138.1 C535.6 153.1 525.4 162.6 512.5 162.6 C499.6 162.6 489.4 153.1 489.4 138.1 C489.9 120.9 499.6 107 512.5 107 Z" fill="#b8946a" filter="url(#texOnc)"/><path d="M513.5 109 Q509.5 126.5 511.5 143.1" fill="none" stroke="#a07a52" stroke-width="0.9" opacity="0.55"/><path d="M512.5 107 C525.4 107 535.1 120.9 535.6 138.1 C535.6 153.1 525.4 162.6 512.5 162.6 C499.6 162.6 489.4 153.1 489.4 138.1 C489.9 120.9 499.6 107 512.5 107 Z" fill="none" stroke="#94683f" stroke-width="1.7"/></g><path d="M500.9 156.4 L491.7 163.4" stroke="#8a5a50" stroke-width="1.4" fill="none" stroke-linecap="round"/><path d="M502.5 158.7 L494.8 165" stroke="#8a5a50" stroke-width="1.4" fill="none" stroke-linecap="round"/><path d="M514.8 158 L515.6 168.8" stroke="#8a5a50" stroke-width="1.4" fill="none" stroke-linecap="round"/><path d="M518 158 L519 168" stroke="#8a5a50" stroke-width="1.4" fill="none" stroke-linecap="round"/><path d="M528.7 153.3 L538.7 156.4" stroke="#8a5a50" stroke-width="1.4" fill="none" stroke-linecap="round"/><path d="M527.5 155.5 L537 160.5" stroke="#8a5a50" stroke-width="1.4" fill="none" stroke-linecap="round"/>
<g transform="rotate(58 486.7 211.8)"><path d="M486.7 183.6 C499.9 183.6 509.8 197.7 510.3 215.2 C510.3 230.4 499.9 240 486.7 240 C473.5 240 463.1 230.4 463.1 215.2 C463.6 197.7 473.5 183.6 486.7 183.6 Z" fill="#b8946a" filter="url(#texOnc)"/><path d="M487.7 185.6 Q483.7 203.3 485.7 220.3" fill="none" stroke="#a07a52" stroke-width="0.9" opacity="0.55"/><path d="M486.7 183.6 C499.9 183.6 509.8 197.7 510.3 215.2 C510.3 230.4 499.9 240 486.7 240 C473.5 240 463.1 230.4 463.1 215.2 C463.6 197.7 473.5 183.6 486.7 183.6 Z" fill="none" stroke="#94683f" stroke-width="1.7"/></g><path d="M464 201.5 L456.5 198.5" stroke="#8a5a50" stroke-width="1.4" fill="none" stroke-linecap="round"/><path d="M463.5 204.5 L456.5 203.5" stroke="#8a5a50" stroke-width="1.4" fill="none" stroke-linecap="round"/><path d="M467 224 L460.5 227" stroke="#8a5a50" stroke-width="1.4" fill="none" stroke-linecap="round"/><path d="M469 227 L463 231" stroke="#8a5a50" stroke-width="1.4" fill="none" stroke-linecap="round"/><path d="M487.5 236 L487.5 244.5" stroke="#8a5a50" stroke-width="1.4" fill="none" stroke-linecap="round"/><path d="M490.5 236 L491.5 244.5" stroke="#8a5a50" stroke-width="1.4" fill="none" stroke-linecap="round"/>
<g transform="rotate(6 617.8 41.2)"><path d="M617.8 14 C631.1 14 641.1 27.6 641.6 44.5 C641.6 59.2 631.1 68.4 617.8 68.4 C604.5 68.4 594 59.2 594 44.5 C594.5 27.6 604.5 14 617.8 14 Z" fill="#b8946a" filter="url(#texOnc)"/><path d="M618.8 16 Q614.8 33 616.8 49.4" fill="none" stroke="#a07a52" stroke-width="0.9" opacity="0.55"/><path d="M617.8 14 C631.1 14 641.1 27.6 641.6 44.5 C641.6 59.2 631.1 68.4 617.8 68.4 C604.5 68.4 594 59.2 594 44.5 C594.5 27.6 604.5 14 617.8 14 Z" fill="none" stroke="#94683f" stroke-width="1.7"/></g><path d="M596.8 56.6 L586.7 58.9" stroke="#8a5a50" stroke-width="1.4" fill="none" stroke-linecap="round"/><path d="M596.8 58.2 L587.9 62.2" stroke="#8a5a50" stroke-width="1.4" fill="none" stroke-linecap="round"/><path d="M609.7 66.2 L607 73.5" stroke="#8a5a50" stroke-width="1.4" fill="none" stroke-linecap="round"/><path d="M612.5 67.2 L612 74" stroke="#8a5a50" stroke-width="1.4" fill="none" stroke-linecap="round"/><path d="M627.7 65.6 L632.7 72.9" stroke="#8a5a50" stroke-width="1.4" fill="none" stroke-linecap="round"/><path d="M630.5 64.5 L635.5 71.8" stroke="#8a5a50" stroke-width="1.4" fill="none" stroke-linecap="round"/>
<g transform="rotate(6 776 98)"><path d="M776 70.8 C789 70.8 798.8 84.4 799.3 101.3 C799.3 116 789 125.2 776 125.2 C763 125.2 752.7 116 752.7 101.3 C753.2 84.4 763 70.8 776 70.8 Z" fill="#b8946a" filter="url(#texOnc)"/><path d="M777 72.8 Q773 89.8 775 106.2" fill="none" stroke="#a07a52" stroke-width="0.9" opacity="0.55"/><path d="M776 70.8 C789 70.8 798.8 84.4 799.3 101.3 C799.3 116 789 125.2 776 125.2 C763 125.2 752.7 116 752.7 101.3 C753.2 84.4 763 70.8 776 70.8 Z" fill="none" stroke="#94683f" stroke-width="1.7"/></g><path d="M755.5 113.1 L745.4 115.4" stroke="#8a5a50" stroke-width="1.4" fill="none" stroke-linecap="round"/><path d="M755.5 114.7 L746.6 118.7" stroke="#8a5a50" stroke-width="1.4" fill="none" stroke-linecap="round"/><path d="M768.4 122.7 L765.7 130" stroke="#8a5a50" stroke-width="1.4" fill="none" stroke-linecap="round"/><path d="M771.2 123.7 L770.7 130.5" stroke="#8a5a50" stroke-width="1.4" fill="none" stroke-linecap="round"/><path d="M786.4 122.1 L791.4 129.4" stroke="#8a5a50" stroke-width="1.4" fill="none" stroke-linecap="round"/><path d="M789.2 121 L794.2 128.3" stroke="#8a5a50" stroke-width="1.4" fill="none" stroke-linecap="round"/>
<g transform="translate(370.5 231) scale(1 1)"><path d="M0 -37.6C7 -37.9 15.4 -37.3 21 -35C26.6 -32.6 30.8 -27.9 33.6 -23.3C36.4 -18.7 36.6 -12.7 37.8 -7.5C39 -2.4 40 3.1 40.7 7.5C41.4 11.9 43.2 15.8 42 18.8C40.8 21.8 36.8 23.4 33.6 25.6C30.5 27.7 27.3 29.6 23.1 31.6C18.9 33.5 14.4 36.5 8.4 37.2C2.5 38 -6.3 37.8 -12.6 36.1C-18.9 34.4 -24.8 31.2 -29.4 27.1C-33.9 22.9 -37.8 16.5 -39.9 11.3C-42 6 -42.7 0.8 -42 -4.5C-41.3 -9.8 -39.2 -15.9 -35.7 -20.7C-32.2 -25.4 -26.9 -30.3 -21 -33.1C-15.1 -35.9 -7 -37.3 0 -37.6Z" fill="url(#gMac)" filter="url(#texMac)"/><ellipse cx="-0.8" cy="0" rx="25.2" ry="24.1" fill="url(#gMacHalo)"/><path d="M0.7 -19.6C7.5 -21 6.8 -20.6 12.5 -19.2C18.2 -17.7 18.1 -17.7 19.6 -14.7C21.2 -11.7 19.5 -12.6 17.6 -9.2C15.8 -5.8 14.1 -6.9 13.3 -3.4C12.5 0.2 12.5 -0.3 14.9 2.6C17.3 5.6 18.1 4 21.2 6.4C24.3 8.8 25.9 7.5 25.1 10.5C24.4 13.6 24.4 14.1 18.8 16.5C13.3 19 13.8 19 6.6 18.8C-0.6 18.6 0.8 19.4 -5.2 15.8C-11.3 12.2 -10.5 12.9 -13.5 6.8C-16.6 0.7 -16.5 1.8 -15.5 -4.5C-14.5 -10.8 -15 -9.8 -10.2 -14.3C-5.3 -18.8 -6.1 -18.1 0.7 -19.6Z" fill="url(#gNuc)" stroke="#25256a" stroke-width="1.4"/></g>
<g transform="translate(588 235) scale(-1 1)"><path d="M0 -37.5C6.7 -37.8 14.8 -37.2 20.2 -34.9C25.6 -32.5 29.6 -27.8 32.3 -23.2C35 -18.7 35.2 -12.6 36.4 -7.5C37.5 -2.4 38.5 3.1 39.2 7.5C39.9 11.9 41.5 15.8 40.4 18.8C39.3 21.8 35.4 23.4 32.3 25.5C29.3 27.6 26.3 29.6 22.2 31.5C18.2 33.4 13.8 36.4 8.1 37.1C2.4 37.9 -6.1 37.7 -12.1 36C-18.2 34.3 -23.9 31.1 -28.3 27C-32.7 22.9 -36.4 16.5 -38.4 11.2C-40.4 6 -41.1 0.8 -40.4 -4.5C-39.7 -9.8 -37.7 -15.9 -34.3 -20.6C-31 -25.4 -25.9 -30.2 -20.2 -33C-14.5 -35.8 -6.7 -37.2 0 -37.5Z" fill="url(#gMac)" filter="url(#texMac)"/><ellipse cx="-0.8" cy="0" rx="24.2" ry="24" fill="url(#gMacHalo)"/><path d="M0.6 -19.5C7.2 -21 6.6 -20.6 12 -19.1C17.5 -17.7 17.4 -17.6 18.9 -14.6C20.4 -11.6 18.8 -12.6 17 -9.2C15.2 -5.8 13.6 -6.9 12.8 -3.4C12 0.2 12 -0.3 14.3 2.6C16.6 5.6 17.4 4 20.4 6.4C23.4 8.7 24.9 7.5 24.2 10.5C23.5 13.5 23.5 14 18.1 16.5C12.8 19 13.3 19 6.3 18.8C-0.6 18.5 0.8 19.4 -5 15.8C-10.9 12.2 -10.1 12.8 -13 6.8C-16 0.7 -15.9 1.8 -14.9 -4.5C-14 -10.8 -14.5 -9.8 -9.8 -14.2C-5.1 -18.8 -5.9 -18 0.6 -19.5Z" fill="url(#gNuc)" stroke="#25256a" stroke-width="1.4"/></g>
<path d="M409.8 194 Q442 229.1 421 253" fill="none" stroke="#d66e6c" stroke-width="1.7"/><path d="M404 194 Q438.6 227.8 416.8 254.3" fill="none" stroke="#d66e6c" stroke-width="1.7"/><path d="M399 194 Q435.6 227.1 411 257" fill="none" stroke="#d66e6c" stroke-width="1.7"/>
<path d="M548 194 Q516.1 229.1 537 253" fill="none" stroke="#d66e6c" stroke-width="1.7"/><path d="M553.8 194 Q519.5 227.8 541.2 254.3" fill="none" stroke="#d66e6c" stroke-width="1.7"/><path d="M559 194 Q522.4 227.1 547 257" fill="none" stroke="#d66e6c" stroke-width="1.7"/>
<ellipse cx="193.2" cy="232.8" rx="31" ry="30.4" fill="url(#gNeu)"/><g fill="#211a74" stroke="#211a74" stroke-linecap="round" stroke-linejoin="round"><path d="M172.3 231.7 L184.4 229" stroke-width="3.5" fill="none"/><path d="M183 216 L199 213.5" stroke-width="1.6" fill="none"/><path d="M206.5 217 L210.8 225" stroke-width="2.4" fill="none"/><path d="M208.5 236 L202 242" stroke-width="3.2" fill="none"/><ellipse cx="172.3" cy="231.7" rx="4.5" ry="5.3" stroke-width="0.6" transform="rotate(0 172.3 231.7)"/><ellipse cx="184.4" cy="227.4" rx="6.2" ry="9" stroke-width="0.6" transform="rotate(8 184.4 227.4)"/><ellipse cx="181.7" cy="216.3" rx="2.6" ry="2.4" stroke-width="0.6" transform="rotate(0 181.7 216.3)"/><ellipse cx="201.3" cy="213.9" rx="7.3" ry="4.8" stroke-width="0.6" transform="rotate(5 201.3 213.9)"/><ellipse cx="211.4" cy="230.4" rx="6.8" ry="7.3" stroke-width="0.6" transform="rotate(0 211.4 230.4)"/><ellipse cx="197.2" cy="247" rx="8.3" ry="7.2" stroke-width="0.6" transform="rotate(-40 197.2 247)"/></g>
<ellipse cx="802.2" cy="232.9" rx="32.4" ry="32.7" fill="url(#gNeu)"/><g fill="#211a74" stroke="#211a74" stroke-linecap="round" stroke-linejoin="round"><path d="M783.3 219.7 L795 223" stroke-width="4" fill="none"/><path d="M803 214 L815 217.5" stroke-width="2" fill="none"/><path d="M823.6 226 L822.5 236" stroke-width="2.6" fill="none"/><path d="M811 243.3 L803 246" stroke-width="3.2" fill="none"/><ellipse cx="783.3" cy="219.7" rx="5.3" ry="5.8" stroke-width="0.6" transform="rotate(0 783.3 219.7)"/><ellipse cx="795.5" cy="223.1" rx="7.8" ry="8.2" stroke-width="0.6" transform="rotate(-30 795.5 223.1)"/><ellipse cx="800.9" cy="213.2" rx="3.4" ry="3.2" stroke-width="0.6" transform="rotate(0 800.9 213.2)"/><ellipse cx="819.1" cy="221.7" rx="6.8" ry="6.8" stroke-width="0.6" transform="rotate(0 819.1 221.7)"/><ellipse cx="817.1" cy="241.3" rx="7.3" ry="6.8" stroke-width="0.6" transform="rotate(0 817.1 241.3)"/><ellipse cx="795.5" cy="247.4" rx="9.3" ry="8.2" stroke-width="0.6" transform="rotate(-15 795.5 247.4)"/></g>
<g transform="translate(266.4 263.2) scale(1)"><ellipse cx="0" cy="0" rx="21.3" ry="14.9" fill="url(#gPlex)"/><g stroke-linecap="round" fill="none"><path d="M15 -0.5 L19.7 -1.4" stroke="#e8288a" stroke-width="1.3"/><path d="M13.7 2 L18.3 2.6" stroke="#e8288a" stroke-width="1.1"/><path d="M11.9 4 L16.8 6.5" stroke="#ee459c" stroke-width="1.2"/><path d="M11.6 5.3 L15 7.4" stroke="#ea2f92" stroke-width="1.4"/><path d="M9.3 7 L14.5 8.7" stroke="#ee459c" stroke-width="1.3"/><path d="M6.5 9 L7.9 12.1" stroke="#e8288a" stroke-width="1.4"/><path d="M3.7 9.5 L3.2 13.9" stroke="#ea2f92" stroke-width="0.9"/><path d="M0.7 10.5 L1.6 12.9" stroke="#f582ba" stroke-width="1.4"/><path d="M-1.6 10.6 L-3.9 13.2" stroke="#ee459c" stroke-width="1"/><path d="M-4.8 10 L-6.4 13.2" stroke="#f36eae" stroke-width="1.3"/><path d="M-7.4 9 L-10.2 11.3" stroke="#f15ca4" stroke-width="1.1"/><path d="M-10.1 7.4 L-12.9 9.8" stroke="#f36eae" stroke-width="0.9"/><path d="M-11.8 6.5 L-15.6 7.7" stroke="#e8288a" stroke-width="0.8"/><path d="M-14.1 4.1 L-17.8 5.5" stroke="#ee459c" stroke-width="0.9"/><path d="M-12.8 2.2 L-18.5 1.8" stroke="#f36eae" stroke-width="0.9"/><path d="M-15.2 0 L-19.4 0.1" stroke="#f15ca4" stroke-width="1.2"/><path d="M-14.4 -2.3 L-18.2 -4" stroke="#f582ba" stroke-width="1.1"/><path d="M-13.8 -3.8 L-16.6 -6.1" stroke="#e8288a" stroke-width="1.3"/><path d="M-11 -5.7 L-15.5 -8" stroke="#f15ca4" stroke-width="1"/><path d="M-10.2 -7 L-14.7 -9.3" stroke="#f36eae" stroke-width="0.8"/><path d="M-7.2 -8.1 L-8.8 -12.1" stroke="#f36eae" stroke-width="1.3"/><path d="M-3.7 -9.3 L-4.6 -13.6" stroke="#ea2f92" stroke-width="1.3"/><path d="M-1.6 -10.3 L-3.1 -13" stroke="#f36eae" stroke-width="0.9"/><path d="M1.1 -9.5 L3.5 -12.9" stroke="#f582ba" stroke-width="1"/><path d="M4.7 -9.3 L6.2 -12.5" stroke="#ea2f92" stroke-width="1"/><path d="M7.2 -9.1 L8.1 -11.9" stroke="#f582ba" stroke-width="1.1"/><path d="M9.3 -7.8 L10.9 -11.6" stroke="#ea2f92" stroke-width="1"/><path d="M11.8 -6.7 L14.9 -8.5" stroke="#e8288a" stroke-width="1.1"/><path d="M13.7 -4.7 L17.9 -6" stroke="#ee459c" stroke-width="1.1"/><path d="M14.1 -2.7 L19.3 -3.1" stroke="#e8288a" stroke-width="0.8"/><path d="M-4.7 0.6 L1.4 0.4" stroke="#f15ca4" stroke-width="0.8"/><path d="M-5.1 1.9 L-0.7 3.8" stroke="#ee459c" stroke-width="1.1"/><path d="M-6.7 2.3 L-3.4 7.6" stroke="#ea2f92" stroke-width="1.2"/><path d="M-7.9 3.2 L-8.3 7.7" stroke="#f582ba" stroke-width="1.2"/><path d="M-9 2.4 L-11.9 5.9" stroke="#f36eae" stroke-width="1.3"/><path d="M-9.9 1.3 L-14.7 2.6" stroke="#f582ba" stroke-width="1.1"/><path d="M-9.7 0.2 L-15.8 -1.3" stroke="#e8288a" stroke-width="1.4"/><path d="M-9.4 -0.6 L-13.5 -3.8" stroke="#f36eae" stroke-width="1.3"/><path d="M-8.1 -1.2 L-9.2 -6.5" stroke="#e8288a" stroke-width="1.5"/><path d="M-6.6 -1.5 L-4.4 -6.1" stroke="#e8288a" stroke-width="1.3"/><path d="M-5.8 -0.2 L-1.5 -2.5" stroke="#ee459c" stroke-width="0.9"/><path d="M9.1 -1 L15.6 -0.5" stroke="#f36eae" stroke-width="1.2"/><path d="M8.9 -0.2 L13.3 1.9" stroke="#ee459c" stroke-width="1.4"/><path d="M8 1.1 L10.4 6" stroke="#ee459c" stroke-width="1.2"/><path d="M6.3 0.8 L5.2 5.5" stroke="#e8288a" stroke-width="1.4"/><path d="M4.8 0.5 L1.2 3.6" stroke="#f36eae" stroke-width="1.2"/><path d="M4.7 -0.9 L-1.4 0.1" stroke="#f36eae" stroke-width="0.9"/><path d="M4 -1.8 L-1.4 -2.8" stroke="#ea2f92" stroke-width="1.1"/><path d="M4.9 -2.9 L0.6 -6.7" stroke="#ea2f92" stroke-width="1.2"/><path d="M6.2 -3.2 L4.5 -8.6" stroke="#ea2f92" stroke-width="0.9"/><path d="M8.1 -3.2 L10.4 -6.8" stroke="#e8288a" stroke-width="0.9"/><path d="M9 -2.6 L12.8 -4.9" stroke="#e8288a" stroke-width="1.4"/><path d="M2.4 5.7 L5.6 5.7" stroke="#f582ba" stroke-width="1.1"/><path d="M2 6.7 L4.2 7.7" stroke="#ea2f92" stroke-width="1.4"/><path d="M0.5 7.9 L1.4 10.2" stroke="#e8288a" stroke-width="1"/><path d="M-0.5 8.1 L-0.7 11.3" stroke="#e8288a" stroke-width="0.9"/><path d="M-2 7.5 L-4.4 10.2" stroke="#f36eae" stroke-width="1.4"/><path d="M-2.8 6.3 L-5.6 7" stroke="#ee459c" stroke-width="1"/><path d="M-2.6 5.2 L-5.8 4.6" stroke="#e8288a" stroke-width="0.9"/><path d="M-2 4.1 L-3.9 2.1" stroke="#f15ca4" stroke-width="0.8"/><path d="M-1 3.3 L-1.7 0.7" stroke="#f15ca4" stroke-width="1"/><path d="M0.4 3.5 L1.7 0.5" stroke="#ea2f92" stroke-width="1"/><path d="M1.4 4.4 L3.6 2.8" stroke="#f36eae" stroke-width="1.4"/><path d="M2.6 -6.2 L4.9 -6.1" stroke="#f15ca4" stroke-width="1.1"/><path d="M2.2 -5.1 L4.5 -3.6" stroke="#f15ca4" stroke-width="0.9"/><path d="M1.1 -4.4 L2.2 -1.8" stroke="#ee459c" stroke-width="1.4"/><path d="M0.2 -4.4 L-0.1 -1.9" stroke="#f36eae" stroke-width="1"/><path d="M-1.2 -4.9 L-3.7 -2.9" stroke="#ea2f92" stroke-width="1.3"/><path d="M-2.2 -5.8 L-4.8 -5.3" stroke="#f36eae" stroke-width="1.4"/><path d="M-2.1 -7 L-4 -7.6" stroke="#e8288a" stroke-width="1.2"/><path d="M-1.7 -7.9 L-3.1 -9" stroke="#ea2f92" stroke-width="1.3"/><path d="M0 -8.4 L-0.3 -10.3" stroke="#e8288a" stroke-width="1.4"/><path d="M1.4 -8.2 L2.4 -10.1" stroke="#f15ca4" stroke-width="1.1"/><path d="M3 -7.5 L5.5 -8.6" stroke="#ea2f92" stroke-width="0.8"/><circle cx="-7.7" cy="0.7" r="2.3" fill="#f58cc4"/><circle cx="6.8" cy="-1.2" r="2.3" fill="#f58cc4"/><circle cx="-0.4" cy="5.7" r="2.3" fill="#f58cc4"/></g></g>
<g transform="translate(682 241.5) scale(1)"><ellipse cx="0" cy="0" rx="20.6" ry="14.5" fill="url(#gPlex)"/><g stroke-linecap="round" fill="none"><path d="M14.7 0.6 L17.8 -0.6" stroke="#ee459c" stroke-width="1.2"/><path d="M13.1 2.1 L18.2 3.4" stroke="#f36eae" stroke-width="1.2"/><path d="M12.5 4.6 L16.2 7.2" stroke="#f36eae" stroke-width="1.4"/><path d="M11 5.7 L15.8 6.4" stroke="#ea2f92" stroke-width="1"/><path d="M9.2 8 L10.3 10.8" stroke="#ee459c" stroke-width="1.1"/><path d="M6.8 7.7 L11 10.3" stroke="#f36eae" stroke-width="1"/><path d="M4.3 9.3 L6.3 13" stroke="#e8288a" stroke-width="1.2"/><path d="M0.8 10.1 L1.7 13.4" stroke="#e8288a" stroke-width="0.9"/><path d="M-1.9 9.9 L-2.6 12.9" stroke="#e8288a" stroke-width="1"/><path d="M-4.3 9.3 L-6.6 12.7" stroke="#e8288a" stroke-width="1.3"/><path d="M-6.9 8.5 L-10.5 11.5" stroke="#e8288a" stroke-width="1.2"/><path d="M-10.2 7.2 L-14.8 8.7" stroke="#f36eae" stroke-width="1"/><path d="M-11.2 5.2 L-16.8 6.9" stroke="#f36eae" stroke-width="1.1"/><path d="M-12.8 4 L-17.3 4.6" stroke="#e8288a" stroke-width="1.1"/><path d="M-13.9 1.6 L-17.8 1" stroke="#f582ba" stroke-width="0.8"/><path d="M-14.8 -0.4 L-17.9 -0.7" stroke="#ea2f92" stroke-width="1"/><path d="M-14.3 -1.8 L-17.6 -2.3" stroke="#f15ca4" stroke-width="0.9"/><path d="M-13.5 -3.8 L-16.8 -5.5" stroke="#ea2f92" stroke-width="0.8"/><path d="M-10.9 -5.4 L-15.4 -6.2" stroke="#ea2f92" stroke-width="0.8"/><path d="M-8.3 -6.9 L-10.7 -10.3" stroke="#ee459c" stroke-width="1.2"/><path d="M-6.4 -7.8 L-8.2 -11.9" stroke="#ee459c" stroke-width="0.9"/><path d="M-4.9 -8.8 L-5.8 -12.6" stroke="#ea2f92" stroke-width="1"/><path d="M-1.4 -9.4 L-1.5 -13.1" stroke="#ea2f92" stroke-width="1.3"/><path d="M2 -10.1 L2.4 -13.3" stroke="#ee459c" stroke-width="0.9"/><path d="M4.8 -9.6 L7 -11.5" stroke="#ee459c" stroke-width="1.1"/><path d="M7.3 -8.2 L11 -10.3" stroke="#f15ca4" stroke-width="1"/><path d="M9.3 -7.1 L12.2 -9.1" stroke="#ee459c" stroke-width="1.2"/><path d="M10.3 -5.6 L14.1 -7.9" stroke="#ee459c" stroke-width="1.1"/><path d="M13.7 -3.7 L17.8 -5.7" stroke="#e8288a" stroke-width="0.8"/><path d="M12.8 -2.4 L18.7 -3.1" stroke="#f15ca4" stroke-width="1"/><path d="M-4.9 0.7 L-0.5 0.6" stroke="#ea2f92" stroke-width="1.1"/><path d="M-5.2 1.7 L-1.1 3.6" stroke="#ea2f92" stroke-width="0.9"/><path d="M-6.3 2.4 L-3.8 6.2" stroke="#f36eae" stroke-width="1.3"/><path d="M-7.7 2.8 L-8.4 7.2" stroke="#f582ba" stroke-width="1.4"/><path d="M-9.4 2.3 L-13.2 5.3" stroke="#f36eae" stroke-width="0.8"/><path d="M-10.1 1.3 L-16 2.7" stroke="#f36eae" stroke-width="0.9"/><path d="M-10.1 0.3 L-15 -0.5" stroke="#f36eae" stroke-width="1.5"/><path d="M-9.1 -0.7 L-13.5 -4.2" stroke="#f15ca4" stroke-width="1"/><path d="M-7.5 -1.3 L-7.8 -5.3" stroke="#ee459c" stroke-width="1.4"/><path d="M-6.5 -0.8 L-3.8 -5.3" stroke="#e8288a" stroke-width="1.2"/><path d="M-5.1 -0.6 L-0.5 -3.1" stroke="#ea2f92" stroke-width="1"/><path d="M9.4 -1.2 L13.7 -1.3" stroke="#e8288a" stroke-width="0.9"/><path d="M8.6 0 L13.2 2.6" stroke="#f15ca4" stroke-width="1.1"/><path d="M7.7 0.4 L10.1 4.1" stroke="#f15ca4" stroke-width="1.2"/><path d="M5.9 1 L4.8 4.6" stroke="#f582ba" stroke-width="1.1"/><path d="M5.1 0.7 L2.3 4.1" stroke="#e8288a" stroke-width="0.9"/><path d="M4.3 -0.5 L-1.8 1.2" stroke="#f582ba" stroke-width="1.5"/><path d="M3.9 -2 L-1.6 -3.8" stroke="#f15ca4" stroke-width="1.1"/><path d="M4.8 -2.7 L0.8 -6" stroke="#f582ba" stroke-width="1.3"/><path d="M6.5 -3.3 L6.2 -8.5" stroke="#ea2f92" stroke-width="0.8"/><path d="M7.5 -3.2 L9.6 -8.1" stroke="#ea2f92" stroke-width="1.4"/><path d="M8.9 -2.2 L14.3 -4.5" stroke="#ea2f92" stroke-width="0.9"/><path d="M1.8 5.4 L5.6 5.3" stroke="#f582ba" stroke-width="1"/><path d="M1.6 6.4 L4.2 7.6" stroke="#e8288a" stroke-width="0.9"/><path d="M0.7 7.6 L1.8 9.6" stroke="#ee459c" stroke-width="1.1"/><path d="M-0.9 7.5 L-1.6 10.9" stroke="#f36eae" stroke-width="1.3"/><path d="M-2.1 7.2 L-4.4 9.5" stroke="#e8288a" stroke-width="1.4"/><path d="M-2.7 6.3 L-5.7 7.2" stroke="#e8288a" stroke-width="1"/><path d="M-2.7 4.8 L-6 3.8" stroke="#f15ca4" stroke-width="1.5"/><path d="M-2.2 3.9 L-4.5 1.8" stroke="#f582ba" stroke-width="1"/><path d="M-0.7 3.5 L-1.1 0.5" stroke="#f582ba" stroke-width="1.4"/><path d="M0.5 3.5 L2 0.5" stroke="#e8288a" stroke-width="1.3"/><path d="M1.4 4.7 L5.2 2.9" stroke="#f582ba" stroke-width="1.2"/><path d="M2.6 -6.1 L6 -6.2" stroke="#e8288a" stroke-width="1.4"/><path d="M2.2 -5 L4.7 -3.4" stroke="#f36eae" stroke-width="1.2"/><path d="M1.5 -4.1 L2.2 -2.8" stroke="#f582ba" stroke-width="1.1"/><path d="M0.2 -4 L0 -1.9" stroke="#ee459c" stroke-width="1.5"/><path d="M-1.2 -4.7 L-3.4 -2.8" stroke="#f36eae" stroke-width="1.4"/><path d="M-2.2 -5.5 L-4.4 -5.1" stroke="#f582ba" stroke-width="1.4"/><path d="M-2.3 -6.7 L-4.3 -7.2" stroke="#ea2f92" stroke-width="1.2"/><path d="M-1.4 -7.8 L-3.4 -9.5" stroke="#e8288a" stroke-width="1"/><path d="M0.1 -8.4 L-0.2 -10.5" stroke="#ea2f92" stroke-width="0.9"/><path d="M1.4 -8 L2.2 -9.8" stroke="#ea2f92" stroke-width="1"/><path d="M2.1 -7 L4 -8.1" stroke="#e8288a" stroke-width="1.2"/><circle cx="-7.4" cy="0.7" r="2.3" fill="#f58cc4"/><circle cx="6.6" cy="-1.2" r="2.3" fill="#f58cc4"/><circle cx="-0.4" cy="5.5" r="2.3" fill="#f58cc4"/></g></g>
<g transform="translate(925.3 240) scale(1)"><ellipse cx="0" cy="0" rx="21.3" ry="14.8" fill="url(#gPlex)"/><g stroke-linecap="round" fill="none"><path d="M14.4 -0.3 L19 -0.1" stroke="#f582ba" stroke-width="1.1"/><path d="M14.8 2.3 L18.7 3.1" stroke="#ee459c" stroke-width="1.4"/><path d="M13.7 4.2 L17.3 5.8" stroke="#ee459c" stroke-width="0.9"/><path d="M12.6 5.8 L17 6" stroke="#ea2f92" stroke-width="0.9"/><path d="M8.3 7.2 L11.2 11.4" stroke="#f15ca4" stroke-width="1.1"/><path d="M7.2 9.2 L7.6 12.6" stroke="#e8288a" stroke-width="1.2"/><path d="M4.6 10.1 L6.1 12.2" stroke="#ea2f92" stroke-width="0.9"/><path d="M2.1 10.5 L2.1 13.2" stroke="#f15ca4" stroke-width="1.1"/><path d="M-2.1 9.9 L-2.4 13.3" stroke="#ee459c" stroke-width="1.3"/><path d="M-5 10 L-8.8 12.5" stroke="#f582ba" stroke-width="1.2"/><path d="M-7.2 8.2 L-10.4 11.4" stroke="#ea2f92" stroke-width="1.2"/><path d="M-9.6 8 L-11.7 10.8" stroke="#ea2f92" stroke-width="1.1"/><path d="M-11.7 5.7 L-14.3 8.7" stroke="#ee459c" stroke-width="0.8"/><path d="M-12.8 4.1 L-17.1 5" stroke="#ea2f92" stroke-width="1"/><path d="M-14.1 2 L-19.5 3.5" stroke="#ee459c" stroke-width="1.4"/><path d="M-13.4 0.2 L-19.3 1.8" stroke="#ee459c" stroke-width="1.4"/><path d="M-13.5 -1.8 L-18.8 -4" stroke="#f15ca4" stroke-width="1"/><path d="M-13.4 -4.8 L-17 -5.9" stroke="#f36eae" stroke-width="1"/><path d="M-11.5 -6.3 L-13.1 -9.1" stroke="#f36eae" stroke-width="1"/><path d="M-9.7 -7.7 L-13.4 -10.4" stroke="#f15ca4" stroke-width="1.1"/><path d="M-6.5 -8 L-9.1 -11.7" stroke="#ea2f92" stroke-width="1"/><path d="M-4 -8.9 L-6.6 -12.8" stroke="#f15ca4" stroke-width="1.2"/><path d="M-1.8 -10.1 L-4.6 -13.3" stroke="#ea2f92" stroke-width="1.4"/><path d="M0.7 -9.7 L0 -13.6" stroke="#f36eae" stroke-width="1"/><path d="M4.1 -9.2 L6 -12.5" stroke="#f15ca4" stroke-width="1.3"/><path d="M6.8 -9.2 L10 -12.2" stroke="#ee459c" stroke-width="1"/><path d="M9.6 -7.9 L11 -10.6" stroke="#e8288a" stroke-width="1.2"/><path d="M11.3 -6.3 L16.2 -8.3" stroke="#ee459c" stroke-width="1.1"/><path d="M12.6 -3.5 L17.9 -4.4" stroke="#f36eae" stroke-width="1.1"/><path d="M13.1 -2.2 L18.4 -4.2" stroke="#f36eae" stroke-width="0.9"/><path d="M-4.9 0.6 L0.9 0.4" stroke="#f36eae" stroke-width="1"/><path d="M-5.6 1.7 L0.2 4.3" stroke="#f15ca4" stroke-width="1.1"/><path d="M-6.8 2.6 L-4.4 7.3" stroke="#ea2f92" stroke-width="1.4"/><path d="M-7.8 2.6 L-8.2 8.6" stroke="#f36eae" stroke-width="1.5"/><path d="M-9.6 2.7 L-13.6 6.8" stroke="#ee459c" stroke-width="0.8"/><path d="M-10.3 1.4 L-16.1 2.9" stroke="#f15ca4" stroke-width="1.2"/><path d="M-10.3 -0.2 L-16.1 -2.1" stroke="#f15ca4" stroke-width="0.9"/><path d="M-9.2 -0.6 L-13.9 -4.7" stroke="#f36eae" stroke-width="1.4"/><path d="M-7.8 -1.7 L-8.1 -6.4" stroke="#ea2f92" stroke-width="1.1"/><path d="M-6.8 -1.3 L-5.1 -5.4" stroke="#ea2f92" stroke-width="1.2"/><path d="M-5.2 -0.6 L-0.6 -3.3" stroke="#f15ca4" stroke-width="0.9"/><path d="M9.4 -0.9 L15.7 -0.3" stroke="#ea2f92" stroke-width="1"/><path d="M9.1 -0.1 L14.7 2.5" stroke="#ee459c" stroke-width="1"/><path d="M8.2 1 L10.3 4.4" stroke="#ea2f92" stroke-width="1.1"/><path d="M6.4 0.9 L5.4 6.2" stroke="#ee459c" stroke-width="1"/><path d="M5.2 0.4 L1.4 4.1" stroke="#ea2f92" stroke-width="1.4"/><path d="M4.7 -0.8 L-0.3 0.2" stroke="#e8288a" stroke-width="1.5"/><path d="M4.8 -1.9 L-0.9 -3.7" stroke="#f15ca4" stroke-width="0.9"/><path d="M5 -2.6 L1 -5.9" stroke="#f15ca4" stroke-width="1.1"/><path d="M6.3 -3.2 L5.2 -7.4" stroke="#f36eae" stroke-width="0.8"/><path d="M8.1 -3.3 L10.7 -7.5" stroke="#ea2f92" stroke-width="1.1"/><path d="M9.2 -2.4 L13.7 -4.7" stroke="#ea2f92" stroke-width="1.2"/><path d="M2 5.6 L5.5 5.5" stroke="#f582ba" stroke-width="1"/><path d="M1.5 7 L3.6 8.4" stroke="#ee459c" stroke-width="1.2"/><path d="M0.4 7.4 L1.7 10.2" stroke="#e8288a" stroke-width="0.9"/><path d="M-0.5 7.7 L-0.6 11.3" stroke="#f36eae" stroke-width="1.4"/><path d="M-2 7.3 L-3.7 9.2" stroke="#f582ba" stroke-width="1.3"/><path d="M-3.2 6.1 L-6.5 6.6" stroke="#f582ba" stroke-width="1"/><path d="M-3.1 4.9 L-6.4 4.1" stroke="#e8288a" stroke-width="0.9"/><path d="M-1.7 4.2 L-3.6 2.1" stroke="#ea2f92" stroke-width="1.3"/><path d="M-0.9 3.3 L-1.4 0.9" stroke="#ea2f92" stroke-width="0.8"/><path d="M0.4 3.6 L1.6 0.6" stroke="#f15ca4" stroke-width="1.2"/><path d="M1.5 4.7 L5.1 3" stroke="#f36eae" stroke-width="1.2"/><path d="M3 -6.4 L5 -6.5" stroke="#f36eae" stroke-width="0.8"/><path d="M2.7 -5.1 L5.2 -3.8" stroke="#ee459c" stroke-width="1.5"/><path d="M1.4 -4.2 L2.5 -2" stroke="#e8288a" stroke-width="1"/><path d="M-0.1 -3.8 L-0.4 -1.9" stroke="#ea2f92" stroke-width="1.1"/><path d="M-1.3 -4.2 L-3 -2.4" stroke="#ee459c" stroke-width="1.1"/><path d="M-2.1 -5.6 L-5.1 -4.9" stroke="#f582ba" stroke-width="1.1"/><path d="M-2.3 -7 L-4 -7.5" stroke="#ea2f92" stroke-width="1.1"/><path d="M-1.4 -8 L-3.4 -9.9" stroke="#f36eae" stroke-width="1.3"/><path d="M-0.1 -8.2 L-0.6 -10.1" stroke="#f36eae" stroke-width="1.2"/><path d="M1.9 -8.3 L3.1 -10" stroke="#f15ca4" stroke-width="1.3"/><path d="M2.8 -7.3 L5.1 -8.3" stroke="#f15ca4" stroke-width="1.4"/><circle cx="-7.7" cy="0.7" r="2.3" fill="#f58cc4"/><circle cx="6.8" cy="-1.2" r="2.3" fill="#f58cc4"/><circle cx="-0.4" cy="5.6" r="2.3" fill="#f58cc4"/></g></g>
<g transform="translate(60 455.2) scale(-1 1)"><path d="M0 -22.6C4.4 -22.8 9.6 -22.4 13.1 -21C16.6 -19.6 19.2 -16.8 21 -14C22.7 -11.3 22.8 -7.6 23.6 -4.5C24.3 -1.4 25 1.9 25.4 4.5C25.9 7.2 26.9 9.5 26.2 11.3C25.5 13.1 22.9 14.1 21 15.4C19 16.6 17 17.8 14.4 19C11.8 20.2 9 21.9 5.2 22.4C1.5 22.8 -3.9 22.7 -7.9 21.7C-11.8 20.7 -15.5 18.8 -18.3 16.3C-21.2 13.8 -23.6 9.9 -24.9 6.8C-26.2 3.6 -26.6 0.5 -26.2 -2.7C-25.8 -5.9 -24.5 -9.6 -22.3 -12.4C-20.1 -15.3 -16.8 -18.2 -13.1 -19.9C-9.4 -21.6 -4.4 -22.4 0 -22.6Z" fill="url(#gMac)" filter="url(#texMac)"/><ellipse cx="-0.5" cy="0" rx="15.7" ry="14.5" fill="url(#gMacHalo)"/><path d="M0.4 -11.8C4.7 -12.6 4.3 -12.4 7.8 -11.5C11.4 -10.6 11.3 -10.6 12.2 -8.8C13.2 -7 12.2 -7.6 11 -5.5C9.8 -3.5 8.8 -4.2 8.3 -2C7.8 0.1 7.8 -0.2 9.3 1.6C10.8 3.3 11.3 2.4 13.2 3.8C15.1 5.3 16.1 4.5 15.7 6.3C15.2 8.2 15.2 8.5 11.7 9.9C8.3 11.4 8.6 11.4 4.1 11.3C-0.4 11.2 0.5 11.7 -3.3 9.5C-7 7.3 -6.5 7.7 -8.4 4.1C-10.4 0.4 -10.3 1.1 -9.7 -2.7C-9.1 -6.5 -9.4 -5.9 -6.4 -8.6C-3.3 -11.3 -3.8 -10.9 0.4 -11.8Z" fill="url(#gNuc)" stroke="#25256a" stroke-width="1.4"/></g>
<path d="M36.2 541.6C36 540.2 36.6 539.6 38.4 540.6C40.2 541.6 40.3 542.6 43 545.5C45.7 548.4 45.8 549.2 48.5 551.5C51.2 553.8 51 554.9 53 554C55 553.1 54.5 551.7 56 548C57.5 544.3 57.7 543.2 58.8 540C59.9 536.8 59.3 536.9 60.2 536C61.1 535.1 61.8 534.7 62.2 536.6C62.6 538.5 61.9 538.9 61.6 543C61.3 547.1 60.5 549.2 61 552C61.5 554.8 61.6 554.4 63.5 553.5C65.4 552.6 65.5 551.3 68 548.5C70.5 545.7 71 544.4 73 543C75 541.6 75.3 542.2 75.6 543.4C75.9 544.6 75.6 544.8 74 547.5C72.4 550.2 71.5 550.6 69.5 553.5C67.5 556.4 65.8 556.8 66.5 558.5C67.2 560.2 68.4 559.3 72 560C75.6 560.7 76.1 560.5 80 561C83.9 561.5 84.8 560.9 86.5 562C88.2 563.1 88.5 564.2 86.5 565C84.5 565.8 83.1 565.1 79 565C74.9 564.9 74.3 564.2 71 564.5C67.7 564.8 66.5 564.5 66.5 566C66.5 567.5 67.9 568 71 570C74.1 572 76.3 571.9 78 573.5C79.7 575.1 79 575.5 77.4 576C75.8 576.5 75 576.4 72 575.5C69 574.6 68.9 573.8 66 572.5C63.1 571.2 63.8 570.6 61 570.5C58.2 570.4 58 569.2 55.5 572C53 574.8 54 575.1 51.5 581C49 586.9 48.7 587.7 46 594C43.3 600.3 43.2 601.8 41.3 604.5C39.4 607.2 38.6 606.5 38.7 604C38.8 601.5 39.3 601.1 41.5 595C43.7 588.9 44.9 587.1 47 581C49.1 574.9 49.5 576 49.5 572C49.5 568 48.7 569.1 47 566C45.3 562.9 45.7 563.2 43 560.5C40.3 557.8 39.9 557.9 37 556C34.1 554.1 33.2 554.8 32 553.5C30.8 552.2 30.7 551.3 32.6 551C34.5 550.7 35.8 551.3 39 552.2C42.2 553.1 43.4 555.1 44.5 554.5C45.6 553.9 44.5 552.3 43 550C41.5 547.7 40.8 548.2 39 546C37.2 543.8 36.4 543 36.2 541.6Z" fill="#b650dc" stroke="#a845cf" stroke-width="0.6"/><ellipse cx="55.8" cy="562.7" rx="6.2" ry="4.2" fill="#2a7fb4" stroke="#27538f" stroke-width="1.6" transform="rotate(20 55.8 562.7)" />
<g transform="translate(57.3 680) scale(1)"><ellipse cx="0" cy="0" rx="26.7" ry="19.5" fill="url(#gPlex)"/><g stroke-linecap="round" fill="none"><path d="M18.5 0.2 L24.7 2.2" stroke="#f582ba" stroke-width="1.2"/><path d="M18.4 2.9 L24.5 2.8" stroke="#ea2f92" stroke-width="1.3"/><path d="M16.6 4.7 L21.8 6.4" stroke="#f36eae" stroke-width="0.9"/><path d="M14 7.9 L17.2 11.6" stroke="#e8288a" stroke-width="0.9"/><path d="M10.9 9.5 L17.3 12.6" stroke="#ea2f92" stroke-width="1.4"/><path d="M10.3 11.4 L15.6 14.5" stroke="#ee459c" stroke-width="1"/><path d="M4.6 12.7 L8 17" stroke="#f582ba" stroke-width="0.9"/><path d="M0.9 12.8 L1.6 16.8" stroke="#ee459c" stroke-width="1"/><path d="M-1.6 13.6 L-2.6 17.7" stroke="#f582ba" stroke-width="1"/><path d="M-5.4 13.1 L-5.9 17.1" stroke="#e8288a" stroke-width="1.1"/><path d="M-8 11.1 L-14.1 15.3" stroke="#f15ca4" stroke-width="1.3"/><path d="M-11.7 10.6 L-15.3 13.4" stroke="#ea2f92" stroke-width="1.1"/><path d="M-15 7.6 L-19.4 11.8" stroke="#ee459c" stroke-width="1.4"/><path d="M-16.3 4.6 L-22.3 6.1" stroke="#e8288a" stroke-width="0.9"/><path d="M-18.4 2.4 L-24 5.2" stroke="#ea2f92" stroke-width="0.9"/><path d="M-17.5 0 L-23.3 0.9" stroke="#f582ba" stroke-width="1.1"/><path d="M-17.1 -2.4 L-23.3 -1.5" stroke="#ee459c" stroke-width="1.2"/><path d="M-16.5 -5 L-23.6 -5.3" stroke="#f36eae" stroke-width="1.1"/><path d="M-14 -7.3 L-18.7 -11.4" stroke="#e8288a" stroke-width="1.2"/><path d="M-13.4 -10 L-15.8 -13.6" stroke="#f15ca4" stroke-width="1.3"/><path d="M-10 -11.4 L-12.9 -15.8" stroke="#e8288a" stroke-width="0.9"/><path d="M-5.4 -11.7 L-9.1 -17" stroke="#e8288a" stroke-width="1.4"/><path d="M-1.5 -12.4 L0.5 -17.7" stroke="#f582ba" stroke-width="1.2"/><path d="M1.8 -12.6 L0.4 -17.5" stroke="#e8288a" stroke-width="1.3"/><path d="M5.3 -11.8 L10 -16.9" stroke="#ee459c" stroke-width="0.9"/><path d="M8.9 -12 L11.2 -16.4" stroke="#f15ca4" stroke-width="1.2"/><path d="M12.7 -9.9 L17.1 -12.1" stroke="#f15ca4" stroke-width="1.3"/><path d="M15.2 -8.5 L21.1 -9.4" stroke="#f15ca4" stroke-width="1.2"/><path d="M15.2 -4.8 L21.7 -8" stroke="#f582ba" stroke-width="1"/><path d="M17.4 -3 L23.7 -4.8" stroke="#f15ca4" stroke-width="1.2"/><path d="M-6.1 1.1 L0.3 1.5" stroke="#ee459c" stroke-width="1.4"/><path d="M-6.6 2.8 L-0.1 6.7" stroke="#f36eae" stroke-width="0.9"/><path d="M-8.7 3.3 L-6.5 9.1" stroke="#e8288a" stroke-width="1"/><path d="M-9.8 3.9 L-10 9.6" stroke="#f36eae" stroke-width="1.3"/><path d="M-11.9 3.1 L-16.4 7.4" stroke="#f36eae" stroke-width="1.2"/><path d="M-12.5 1.5 L-21.1 2.9" stroke="#ee459c" stroke-width="0.9"/><path d="M-12.9 0.2 L-18.8 -1.2" stroke="#f582ba" stroke-width="0.9"/><path d="M-11.9 -1.5 L-16.8 -6.9" stroke="#ee459c" stroke-width="0.8"/><path d="M-10.3 -1.5 L-11.8 -6.9" stroke="#ee459c" stroke-width="1.2"/><path d="M-8.4 -1.4 L-5.3 -7.5" stroke="#ea2f92" stroke-width="1.2"/><path d="M-6.7 -0.9 L-2.4 -3.5" stroke="#e8288a" stroke-width="1.5"/><path d="M12.1 -1.3 L19.4 -0.8" stroke="#f36eae" stroke-width="1.1"/><path d="M11.5 -0.3 L16.8 1.9" stroke="#f36eae" stroke-width="1.2"/><path d="M9.5 0.8 L11.7 6.5" stroke="#ee459c" stroke-width="1.1"/><path d="M7.8 1.2 L6.4 6.7" stroke="#ee459c" stroke-width="0.9"/><path d="M6.5 0.5 L2.5 4.7" stroke="#ee459c" stroke-width="1.2"/><path d="M5.1 -0.6 L0 0.8" stroke="#ea2f92" stroke-width="1"/><path d="M5.5 -2.6 L-0.6 -4.7" stroke="#f36eae" stroke-width="1.1"/><path d="M6.6 -3.4 L2 -7.8" stroke="#f582ba" stroke-width="1.1"/><path d="M8.4 -4.7 L8.2 -10.6" stroke="#f15ca4" stroke-width="1.3"/><path d="M9.6 -3.9 L11.9 -8.7" stroke="#f15ca4" stroke-width="1.1"/><path d="M11.1 -3.1 L16.1 -6.2" stroke="#f36eae" stroke-width="1.5"/><path d="M2.2 7.3 L6.1 7.1" stroke="#e8288a" stroke-width="0.8"/><path d="M1.9 8.8 L6.4 11.3" stroke="#ea2f92" stroke-width="1"/><path d="M0.8 9.5 L3.4 13.7" stroke="#f15ca4" stroke-width="1.1"/><path d="M-1.4 10.1 L-2.6 14.1" stroke="#f582ba" stroke-width="1.4"/><path d="M-2.1 9.4 L-4.5 12.3" stroke="#f582ba" stroke-width="1"/><path d="M-3.6 8.3 L-7.5 9.5" stroke="#f15ca4" stroke-width="1.3"/><path d="M-3.2 6.6 L-6.5 5.5" stroke="#f36eae" stroke-width="1.1"/><path d="M-2.6 4.9 L-4.9 2.2" stroke="#ea2f92" stroke-width="1.1"/><path d="M-0.8 4.6 L-1.1 0.8" stroke="#f582ba" stroke-width="1.3"/><path d="M1.2 4.8 L3.1 2" stroke="#f582ba" stroke-width="1.4"/><path d="M1.9 5.9 L5.9 3.3" stroke="#ea2f92" stroke-width="1"/><path d="M4 -8.5 L7.1 -8.9" stroke="#f582ba" stroke-width="1.3"/><path d="M2.7 -6.7 L5.5 -4.8" stroke="#f36eae" stroke-width="1.4"/><path d="M1.5 -5.6 L2.5 -3.1" stroke="#f36eae" stroke-width="1.4"/><path d="M0.4 -5.7 L0.3 -2.3" stroke="#ea2f92" stroke-width="1.3"/><path d="M-1.4 -5.8 L-3.6 -3.1" stroke="#e8288a" stroke-width="1.3"/><path d="M-2.8 -7 L-4.9 -6.3" stroke="#f582ba" stroke-width="1.4"/><path d="M-3 -8.8 L-6.6 -9.4" stroke="#f582ba" stroke-width="1.4"/><path d="M-1.8 -10.2 L-4 -11.9" stroke="#ee459c" stroke-width="0.8"/><path d="M-0.2 -10.9 L-0.9 -13.8" stroke="#f582ba" stroke-width="0.9"/><path d="M1.6 -10.8 L2.7 -13.7" stroke="#f36eae" stroke-width="0.9"/><path d="M3 -9.6 L6 -11.3" stroke="#e8288a" stroke-width="1"/><circle cx="-9.6" cy="1" r="2.9" fill="#f58cc4"/><circle cx="8.5" cy="-1.6" r="2.9" fill="#f58cc4"/><circle cx="-0.5" cy="7.4" r="2.9" fill="#f58cc4"/></g></g>
<path d="M440.4 433.8 C448 433.2 456 435.5 462 438 C469 440.5 475 443.5 481 446.5 C477 457 472 468 466.4 477.8 C456 477.5 445 475 435.6 471.8 C434.5 466 434.4 462 434.6 458 C436 449 438 441 440.4 433.8Z" fill="#fb9a9a" stroke="#6a2320" stroke-width="1.5" stroke-linejoin="round"/>
<path d="M430.8 555L433.1 544C433.1 541.5 437.1 541.6 437.1 544.1L437.5 552.9Q438.9 556.2 440.4 552.9L441 541.1C441 538.6 445 538.6 445 541.1L445.6 552.7Q447 556 448.6 552.7L449.5 541.8C449.6 539.3 453.6 539.5 453.5 542L453.8 552.4Q455.2 555.8 456.7 552.5L457.3 539.4C457.3 536.9 461.3 536.9 461.3 539.4L461.9 552.3Q463.4 555.6 464.7 552.2L465 538.3C464.9 535.8 468.9 535.7 469 538.2L471.5 554L472 588.5L452 590.5L433.5 591Z" fill="#2ca64d" stroke="#2c8a46" stroke-width="1.4" stroke-linejoin="round"/><ellipse cx="451.8" cy="578.7" rx="8" ry="6" fill="#050505" transform="rotate(-8 451.8 578.7)" />
<polygon points="432.7,650.7 454.2,643.6 477.3,680.4 430.7,699.8" fill="#e4598a" stroke="#a03a64" stroke-width="1.4" stroke-linejoin="round" /><ellipse cx="442.3" cy="665.8" rx="4.6" ry="3.6" fill="#97481c" stroke="#742020" stroke-width="1.5" transform="rotate(8 442.3 665.8)" /><ellipse cx="454.4" cy="665.8" rx="4.6" ry="3.6" fill="#97481c" stroke="#742020" stroke-width="1.5" transform="rotate(8 454.4 665.8)" /><ellipse cx="443.3" cy="677.1" rx="4.6" ry="3.6" fill="#97481c" stroke="#742020" stroke-width="1.5" transform="rotate(8 443.3 677.1)" /><ellipse cx="455.9" cy="680.4" rx="4.6" ry="3.6" fill="#97481c" stroke="#742020" stroke-width="1.5" transform="rotate(8 455.9 680.4)" />
<path d="M798.5 454L799.4 431.9C799.3 430 802.2 429.9 802.3 431.7L803.2 452Q804.6 455.3 806.2 452.1L807.3 434.9C807.4 433.1 810.3 433.3 810.2 435.1L809.6 451.8Q811 455.2 812.3 451.8L811.8 434.4C811.7 432.6 814.6 432.5 814.7 434.3L815.6 451.8Q817.1 455.1 818.5 451.8L818.4 432.6C818.4 430.8 821.3 430.7 821.3 432.5L821.8 451.7Q823.3 455 824.7 451.6L824.4 431.7C824.3 429.9 827.2 429.8 827.3 431.6L829.5 453.5L830.5 490L822 493L798 490.5Z" fill="#f78d1e" stroke="#7a4a10" stroke-width="1.5" stroke-linejoin="round"/><ellipse cx="813.3" cy="477.6" rx="7.8" ry="6.2" fill="#2f66aa" stroke="#1d3b66" stroke-width="1.6" transform="rotate(-8 813.3 477.6)" />
<rect x="796" y="549" width="33" height="45" rx="4" fill="url(#gGob)" stroke="#c9b017" stroke-width="1.4" transform="rotate(-3 812 571)"/><ellipse cx="810.8" cy="579" rx="6.8" ry="5.2" fill="#cda017" stroke="#6e5208" stroke-width="1.6" />
<path d="M795 667L797.7 647.6C797.9 645.1 801.9 645.3 801.7 647.7L801.4 665Q802.8 668.4 804.1 665L803.8 647.8C803.7 645.3 807.7 645.2 807.8 647.7L809 665.1Q810.5 668.4 811.9 665.1L812.2 648.7C812.2 646.2 816.2 646.2 816.2 648.7L816.8 665.1Q818.3 668.4 819.6 665L819.5 649C819.4 646.5 823.4 646.3 823.5 648.8L826 667L826.3 697L815 699L794 698Z" fill="#f1f5f1" stroke="#4a5a4a" stroke-width="1.5" stroke-linejoin="round"/><ellipse cx="809" cy="684.7" rx="6.8" ry="5.4" fill="#3c6e28" stroke="#1f3a16" stroke-width="1.4" />
</g>
<text transform="translate(1014.8 137.3) scale(1.0 1)" font-size="17.3" fill="#141414" textLength="55.4" lengthAdjust="spacing" class="serif" stroke="#141414" stroke-width="0.25">Mucosa</text>
<text transform="translate(1000.1 221.7) scale(1.0 1)" font-size="17.3" fill="#141414" textLength="81.9" lengthAdjust="spacing" class="serif" stroke="#141414" stroke-width="0.25">Submucosa</text>
<text transform="translate(1000.5 311.2) scale(1.0 1)" font-size="17.3" fill="#141414" textLength="90.3" lengthAdjust="spacing" class="serif" stroke="#141414" stroke-width="0.25">Muscle layer</text>
<text transform="translate(1003 383.5) scale(1.0 1)" font-size="17.3" fill="#141414" textLength="74.6" lengthAdjust="spacing" class="serif" stroke="#141414" stroke-width="0.25">Adventitia</text>
<text transform="translate(659.5 45) scale(0.86 1)" font-size="16.5" fill="#8e7c6c" textLength="117.4" lengthAdjust="spacing" >Oncosphere</text>
<text transform="translate(244.3 84.2) scale(0.74 1)" font-size="12.6" fill="#241a1e" letter-spacing="1.0" stroke="#241a1e" stroke-width="0.5">ES</text>
<text transform="translate(500.8 84) scale(0.74 1)" font-size="12.6" fill="#33241a" letter-spacing="1.0" stroke="#33241a" stroke-width="0.5">ES</text>
<text transform="translate(128.6 463.4) scale(0.82 1)" font-size="17.4" fill="#1c1c1c" textLength="173" lengthAdjust="spacing" stroke="#1c1c1c" stroke-width="0.3">Gut Macrophage</text>
<text transform="translate(134 574.5) scale(0.82 1)" font-size="17.4" fill="#1c1c1c" textLength="148" lengthAdjust="spacing" stroke="#1c1c1c" stroke-width="0.3">Dendritic Cell</text>
<text transform="translate(145 680) scale(0.82 1)" font-size="17.4" fill="#1c1c1c" textLength="116.3" lengthAdjust="spacing" stroke="#1c1c1c" stroke-width="0.3">Plexus Cell</text>
<text transform="translate(545.2 464.2) scale(0.82 1)" font-size="17.4" fill="#1c1c1c" textLength="64.6" lengthAdjust="spacing" stroke="#1c1c1c" stroke-width="0.3">M Cell</text>
<text transform="translate(523.2 571.5) scale(0.82 1)" font-size="17.4" fill="#1c1c1c" textLength="114" lengthAdjust="spacing" stroke="#1c1c1c" stroke-width="0.3">Enterocyte</text>
<text transform="translate(523.4 680.9) scale(0.82 1)" font-size="17.4" fill="#1c1c1c" textLength="121.3" lengthAdjust="spacing" stroke="#1c1c1c" stroke-width="0.3">Paneth Cell</text>
<text transform="translate(876.7 468) scale(0.82 1)" font-size="17.4" fill="#1c1c1c" textLength="217.8" lengthAdjust="spacing" stroke="#1c1c1c" stroke-width="0.3">Neuroendocrine Cell</text>
<text transform="translate(908.3 574) scale(0.82 1)" font-size="17.4" fill="#1c1c1c" textLength="118.5" lengthAdjust="spacing" stroke="#1c1c1c" stroke-width="0.3">Goblet Cell</text>
<text transform="translate(909.2 680.2) scale(0.82 1)" font-size="17.4" fill="#1c1c1c" textLength="98.9" lengthAdjust="spacing" stroke="#1c1c1c" stroke-width="0.3">Stem Cell</text>
<rect x="2.5" y="2.5" width="1108" height="708" fill="none" stroke="#1a1a1a" stroke-width="1.3"/>
</svg>
</body></html>
